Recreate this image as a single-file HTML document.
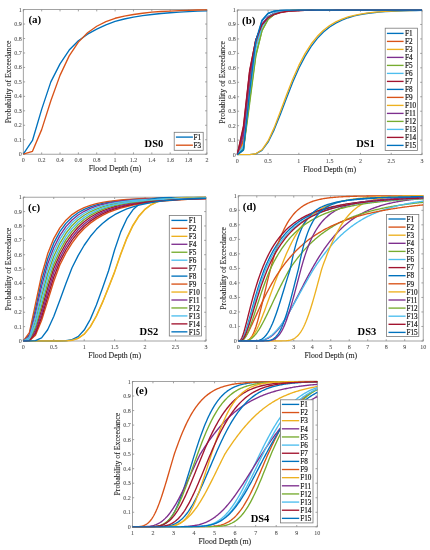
<!DOCTYPE html>
<html><head><meta charset="utf-8"><title>Fragility curves</title>
<style>
html,body{margin:0;padding:0;background:#fff;}
body{width:430px;height:550px;overflow:hidden;}
svg{display:block;filter:blur(0.42px);}
text{font-family:"Liberation Serif","Times New Roman",serif;}
.tk text{font-size:5.5px;fill:#4a4a4a;stroke:#4a4a4a;stroke-width:0.05px;}
.al{font-size:7.85px;fill:#262626;stroke:#262626;stroke-width:0.1px;}
.lg{font-size:7.4px;fill:#1a1a1a;stroke:#1a1a1a;stroke-width:0.2px;}
.pl{font-size:9.8px;font-weight:bold;fill:#000;}
.ds{font-size:10.2px;font-weight:bold;fill:#000;}
</style></head>
<body>
<svg width="430" height="550" viewBox="0 0 430 550">
<rect width="430" height="550" fill="#fff"/>
<rect x="23.3" y="9.6" width="183.6" height="144.6" fill="none" stroke="#8c8c8c" stroke-width="0.8"/>
<path d="M23.3,154.2v-1.8M23.3,9.6v1.8M41.66,154.2v-1.8M41.66,9.6v1.8M60.02,154.2v-1.8M60.02,9.6v1.8M78.38,154.2v-1.8M78.38,9.6v1.8M96.74,154.2v-1.8M96.74,9.6v1.8M115.1,154.2v-1.8M115.1,9.6v1.8M133.46,154.2v-1.8M133.46,9.6v1.8M151.82,154.2v-1.8M151.82,9.6v1.8M170.18,154.2v-1.8M170.18,9.6v1.8M188.54,154.2v-1.8M188.54,9.6v1.8M206.9,154.2v-1.8M206.9,9.6v1.8M23.3,154.2h1.8M206.9,154.2h-1.8M23.3,139.74h1.8M206.9,139.74h-1.8M23.3,125.28h1.8M206.9,125.28h-1.8M23.3,110.82h1.8M206.9,110.82h-1.8M23.3,96.36h1.8M206.9,96.36h-1.8M23.3,81.9h1.8M206.9,81.9h-1.8M23.3,67.44h1.8M206.9,67.44h-1.8M23.3,52.98h1.8M206.9,52.98h-1.8M23.3,38.52h1.8M206.9,38.52h-1.8M23.3,24.06h1.8M206.9,24.06h-1.8M23.3,9.6h1.8M206.9,9.6h-1.8" stroke="#8c8c8c" stroke-width="0.8" fill="none"/>
<clipPath id="clipa"><rect x="22.6" y="8.8" width="185" height="146.2"/></clipPath>
<g clip-path="url(#clipa)" fill="none" stroke-width="1.35" stroke-linejoin="round">
<polyline stroke="#0072BD" points="23.3,154.2 32.48,140.46 41.66,109.37 50.84,81.9 60.02,63.82 69.2,50.09 78.38,40.69 87.56,34.18 96.74,29.12 105.92,24.78 115.1,21.46 124.28,19 133.46,17.12 142.64,15.67 151.82,14.52 161,13.5 170.18,12.78 179.36,12.06 188.54,11.62 197.72,11.19 206.9,10.9"/>
<polyline stroke="#D95319" points="23.3,154.2 32.48,151.31 41.66,129.62 50.84,100.7 60.02,75.39 69.2,55.87 78.38,42.13 87.56,32.74 96.74,26.23 105.92,21.6 115.1,18.28 124.28,16.11 133.46,14.52 142.64,13.22 151.82,12.2 161,11.48 170.18,11.05 179.36,10.61 188.54,10.32 197.72,10.03 206.9,9.89"/>
</g>
<g class="tk"><text transform="translate(23.3,162.3) scale(1.1,1)" text-anchor="middle">0</text><text transform="translate(41.66,162.3) scale(1.1,1)" text-anchor="middle">0.2</text><text transform="translate(60.02,162.3) scale(1.1,1)" text-anchor="middle">0.4</text><text transform="translate(78.38,162.3) scale(1.1,1)" text-anchor="middle">0.6</text><text transform="translate(96.74,162.3) scale(1.1,1)" text-anchor="middle">0.8</text><text transform="translate(115.1,162.3) scale(1.1,1)" text-anchor="middle">1</text><text transform="translate(133.46,162.3) scale(1.1,1)" text-anchor="middle">1.2</text><text transform="translate(151.82,162.3) scale(1.1,1)" text-anchor="middle">1.4</text><text transform="translate(170.18,162.3) scale(1.1,1)" text-anchor="middle">1.6</text><text transform="translate(188.54,162.3) scale(1.1,1)" text-anchor="middle">1.8</text><text transform="translate(206.9,162.3) scale(1.1,1)" text-anchor="middle">2</text><text transform="translate(21.7,156.2) scale(1.1,1)" text-anchor="end">0</text><text transform="translate(21.7,141.74) scale(1.1,1)" text-anchor="end">0.1</text><text transform="translate(21.7,127.28) scale(1.1,1)" text-anchor="end">0.2</text><text transform="translate(21.7,112.82) scale(1.1,1)" text-anchor="end">0.3</text><text transform="translate(21.7,98.36) scale(1.1,1)" text-anchor="end">0.4</text><text transform="translate(21.7,83.9) scale(1.1,1)" text-anchor="end">0.5</text><text transform="translate(21.7,69.44) scale(1.1,1)" text-anchor="end">0.6</text><text transform="translate(21.7,54.98) scale(1.1,1)" text-anchor="end">0.7</text><text transform="translate(21.7,40.52) scale(1.1,1)" text-anchor="end">0.8</text><text transform="translate(21.7,26.06) scale(1.1,1)" text-anchor="end">0.9</text><text transform="translate(21.7,11.6) scale(1.1,1)" text-anchor="end">1</text></g>
<text class="al" x="115.1" y="171.4" text-anchor="middle">Flood Depth (m)</text>
<text class="al" transform="translate(10.6,81.9) rotate(-90)" text-anchor="middle">Probability of Exceedance</text>
<rect x="174.2" y="132.3" width="29" height="18" fill="#fff" stroke="#7a7a7a" stroke-width="0.8"/>
<line x1="175.9" x2="192.9" y1="137.1" y2="137.1" stroke="#0072BD" stroke-width="1.35"/>
<text class="lg" transform="translate(193.6,139.85) scale(0.97,1)">F1</text>
<line x1="175.9" x2="192.9" y1="145.2" y2="145.2" stroke="#D95319" stroke-width="1.35"/>
<text class="lg" transform="translate(193.6,147.95) scale(0.97,1)">F3</text>
<text class="pl" transform="translate(28.4,23.3) scale(1.12,1)">(a)</text>
<text class="ds" transform="translate(144.6,147.2) scale(1.03,1)">DS0</text>
<rect x="237.3" y="10" width="184.7" height="144.6" fill="none" stroke="#8c8c8c" stroke-width="0.8"/>
<path d="M237.3,154.6v-1.8M237.3,10v1.8M268.08,154.6v-1.8M268.08,10v1.8M298.87,154.6v-1.8M298.87,10v1.8M329.65,154.6v-1.8M329.65,10v1.8M360.43,154.6v-1.8M360.43,10v1.8M391.22,154.6v-1.8M391.22,10v1.8M422,154.6v-1.8M422,10v1.8M237.3,154.6h1.8M422,154.6h-1.8M237.3,140.14h1.8M422,140.14h-1.8M237.3,125.68h1.8M422,125.68h-1.8M237.3,111.22h1.8M422,111.22h-1.8M237.3,96.76h1.8M422,96.76h-1.8M237.3,82.3h1.8M422,82.3h-1.8M237.3,67.84h1.8M422,67.84h-1.8M237.3,53.38h1.8M422,53.38h-1.8M237.3,38.92h1.8M422,38.92h-1.8M237.3,24.46h1.8M422,24.46h-1.8M237.3,10h1.8M422,10h-1.8" stroke="#8c8c8c" stroke-width="0.8" fill="none"/>
<clipPath id="clipb"><rect x="236.6" y="9.2" width="186.1" height="146.2"/></clipPath>
<g clip-path="url(#clipb)" fill="none" stroke-width="1.35" stroke-linejoin="round">
<polyline stroke="#0072BD" points="237.3,154.6 243.46,150.23 249.61,95.28 255.77,43.27 261.93,21.18 268.08,13.66 274.24,11.22 280.4,10.42 286.55,10.15 292.71,10.06 298.87,10.02 305.02,10.01 311.18,10 317.34,10 323.49,10 329.65,10 335.81,10 341.96,10 348.12,10 354.28,10 360.43,10 366.59,10 372.75,10 378.9,10 385.06,10 391.22,10 397.37,10 403.53,10 409.69,10 415.84,10 422,10"/>
<polyline stroke="#D95319" points="237.3,154.6 243.46,139.59 249.61,82.3 255.77,43.33 261.93,25.01 268.08,16.92 274.24,13.31 280.4,11.64 286.55,10.85 292.71,10.45 298.87,10.25 305.02,10.14 311.18,10.08 317.34,10.05 323.49,10.03 329.65,10.02 335.81,10.01 341.96,10.01 348.12,10 354.28,10 360.43,10 366.59,10 372.75,10 378.9,10 385.06,10 391.22,10 397.37,10 403.53,10 409.69,10 415.84,10 422,10"/>
<polyline stroke="#EDB120" points="237.3,154.6 243.46,143.49 249.61,87.7 255.77,45.63 261.93,25.57 268.08,16.89 274.24,13.14 280.4,11.49 286.55,10.73 292.71,10.37 298.87,10.19 305.02,10.1 311.18,10.06 317.34,10.03 323.49,10.02 329.65,10.01 335.81,10.01 341.96,10 348.12,10 354.28,10 360.43,10 366.59,10 372.75,10 378.9,10 385.06,10 391.22,10 397.37,10 403.53,10 409.69,10 415.84,10 422,10"/>
<polyline stroke="#7E2F8E" points="237.3,154.6 243.46,132.53 249.61,74.83 255.77,40.4 261.93,24.37 268.08,17.05 274.24,13.61 280.4,11.92 286.55,11.06 292.71,10.61 298.87,10.36 305.02,10.21 311.18,10.13 317.34,10.08 323.49,10.05 329.65,10.04 335.81,10.02 341.96,10.02 348.12,10.01 354.28,10.01 360.43,10.01 366.59,10 372.75,10 378.9,10 385.06,10 391.22,10 397.37,10 403.53,10 409.69,10 415.84,10 422,10"/>
<polyline stroke="#77AC30" points="237.3,154.6 243.46,148.28 249.61,100.59 255.77,55.21 261.93,30.78 268.08,19.47 274.24,14.4 280.4,12.1 286.55,11.03 292.71,10.52 298.87,10.27 305.02,10.15 311.18,10.08 317.34,10.05 323.49,10.03 329.65,10.02 335.81,10.01 341.96,10.01 348.12,10 354.28,10 360.43,10 366.59,10 372.75,10 378.9,10 385.06,10 391.22,10 397.37,10 403.53,10 409.69,10 415.84,10 422,10"/>
<polyline stroke="#4DBEEE" points="237.3,154.6 243.46,145.51 249.61,90.61 255.77,46.53 261.93,25.5 268.08,16.61 274.24,12.9 280.4,11.32 286.55,10.62 292.71,10.3 298.87,10.15 305.02,10.08 311.18,10.04 317.34,10.02 323.49,10.01 329.65,10.01 335.81,10 341.96,10 348.12,10 354.28,10 360.43,10 366.59,10 372.75,10 378.9,10 385.06,10 391.22,10 397.37,10 403.53,10 409.69,10 415.84,10 422,10"/>
<polyline stroke="#A2142F" points="237.3,154.6 243.46,125.93 249.61,70.71 255.77,39.94 261.93,25.21 268.08,18.08 274.24,14.48 280.4,12.58 286.55,11.54 292.71,10.95 298.87,10.6 305.02,10.39 311.18,10.26 317.34,10.17 323.49,10.12 329.65,10.08 335.81,10.06 341.96,10.04 348.12,10.03 354.28,10.02 360.43,10.02 366.59,10.01 372.75,10.01 378.9,10.01 385.06,10.01 391.22,10 397.37,10 403.53,10 409.69,10 415.84,10 422,10"/>
<polyline stroke="#0072BD" points="237.3,154.6 243.46,154.6 249.61,154.57 255.77,153.83 261.93,150.31 268.08,142.19 274.24,129.61 280.4,114.19 286.55,97.91 292.71,82.3 298.87,68.31 305.02,56.32 311.18,46.4 317.34,38.37 323.49,31.99 329.65,26.98 335.81,23.08 341.96,20.06 348.12,17.73 354.28,15.95 360.43,14.58 366.59,13.53 372.75,12.72 378.9,12.1 385.06,11.63 391.22,11.27 397.37,10.98 403.53,10.77 409.69,10.6 415.84,10.47 422,10.37"/>
<polyline stroke="#D95319" points="237.3,154.6 243.46,140.73 249.61,84.89 255.77,45.34 261.93,26.21 268.08,17.59 274.24,13.68 280.4,11.85 286.55,10.96 292.71,10.52 298.87,10.29 305.02,10.16 311.18,10.1 317.34,10.06 323.49,10.03 329.65,10.02 335.81,10.01 341.96,10.01 348.12,10.01 354.28,10 360.43,10 366.59,10 372.75,10 378.9,10 385.06,10 391.22,10 397.37,10 403.53,10 409.69,10 415.84,10 422,10"/>
<polyline stroke="#EDB120" points="237.3,154.6 243.46,154.6 249.61,154.56 255.77,153.71 261.93,149.78 268.08,140.96 274.24,127.62 280.4,111.61 286.55,94.98 292.71,79.29 298.87,65.4 305.02,53.66 311.18,44.03 317.34,36.33 323.49,30.26 329.65,25.54 335.81,21.89 341.96,19.09 348.12,16.95 354.28,15.31 360.43,14.07 366.59,13.12 372.75,12.39 378.9,11.84 385.06,11.42 391.22,11.1 397.37,10.85 403.53,10.66 409.69,10.51 415.84,10.4 422,10.31"/>
<polyline stroke="#7E2F8E" points="237.3,154.6 243.46,135.19 249.61,77.2 255.77,41.16 261.93,24.41 268.08,16.89 274.24,13.43 280.4,11.78 286.55,10.95 292.71,10.53 298.87,10.3 305.02,10.18 311.18,10.11 317.34,10.07 323.49,10.04 329.65,10.03 335.81,10.02 341.96,10.01 348.12,10.01 354.28,10.01 360.43,10 366.59,10 372.75,10 378.9,10 385.06,10 391.22,10 397.37,10 403.53,10 409.69,10 415.84,10 422,10"/>
<polyline stroke="#77AC30" points="237.3,154.6 243.46,149.67 249.61,103.7 255.77,56.42 261.93,30.77 268.08,19.13 274.24,14.07 280.4,11.86 286.55,10.88 292.71,10.43 298.87,10.21 305.02,10.11 311.18,10.06 317.34,10.03 323.49,10.02 329.65,10.01 335.81,10.01 341.96,10 348.12,10 354.28,10 360.43,10 366.59,10 372.75,10 378.9,10 385.06,10 391.22,10 397.37,10 403.53,10 409.69,10 415.84,10 422,10"/>
<polyline stroke="#4DBEEE" points="237.3,154.6 243.46,146.3 249.61,93.23 255.77,48.68 261.93,26.76 268.08,17.27 274.24,13.24 280.4,11.49 286.55,10.71 292.71,10.35 298.87,10.18 305.02,10.09 311.18,10.05 317.34,10.03 323.49,10.02 329.65,10.01 335.81,10.01 341.96,10 348.12,10 354.28,10 360.43,10 366.59,10 372.75,10 378.9,10 385.06,10 391.22,10 397.37,10 403.53,10 409.69,10 415.84,10 422,10"/>
<polyline stroke="#A2142F" points="237.3,154.6 243.46,128.02 249.61,71.85 255.77,39.98 261.93,24.88 268.08,17.71 274.24,14.17 280.4,12.34 286.55,11.36 292.71,10.82 298.87,10.51 305.02,10.32 311.18,10.21 317.34,10.14 323.49,10.09 329.65,10.06 335.81,10.04 341.96,10.03 348.12,10.02 354.28,10.02 360.43,10.01 366.59,10.01 372.75,10.01 378.9,10 385.06,10 391.22,10 397.37,10 403.53,10 409.69,10 415.84,10 422,10"/>
<polyline stroke="#0072BD" points="237.3,154.6 243.46,149.66 249.61,92.18 255.77,40.92 261.93,20.08 268.08,13.22 274.24,11.05 280.4,10.36 286.55,10.13 292.71,10.05 298.87,10.02 305.02,10.01 311.18,10 317.34,10 323.49,10 329.65,10 335.81,10 341.96,10 348.12,10 354.28,10 360.43,10 366.59,10 372.75,10 378.9,10 385.06,10 391.22,10 397.37,10 403.53,10 409.69,10 415.84,10 422,10"/>
</g>
<g class="tk"><text transform="translate(237.3,162.7) scale(1.1,1)" text-anchor="middle">0</text><text transform="translate(268.08,162.7) scale(1.1,1)" text-anchor="middle">0.5</text><text transform="translate(298.87,162.7) scale(1.1,1)" text-anchor="middle">1</text><text transform="translate(329.65,162.7) scale(1.1,1)" text-anchor="middle">1.5</text><text transform="translate(360.43,162.7) scale(1.1,1)" text-anchor="middle">2</text><text transform="translate(391.22,162.7) scale(1.1,1)" text-anchor="middle">2.5</text><text transform="translate(422,162.7) scale(1.1,1)" text-anchor="middle">3</text><text transform="translate(235.7,156.6) scale(1.1,1)" text-anchor="end">0</text><text transform="translate(235.7,142.14) scale(1.1,1)" text-anchor="end">0.1</text><text transform="translate(235.7,127.68) scale(1.1,1)" text-anchor="end">0.2</text><text transform="translate(235.7,113.22) scale(1.1,1)" text-anchor="end">0.3</text><text transform="translate(235.7,98.76) scale(1.1,1)" text-anchor="end">0.4</text><text transform="translate(235.7,84.3) scale(1.1,1)" text-anchor="end">0.5</text><text transform="translate(235.7,69.84) scale(1.1,1)" text-anchor="end">0.6</text><text transform="translate(235.7,55.38) scale(1.1,1)" text-anchor="end">0.7</text><text transform="translate(235.7,40.92) scale(1.1,1)" text-anchor="end">0.8</text><text transform="translate(235.7,26.46) scale(1.1,1)" text-anchor="end">0.9</text><text transform="translate(235.7,12) scale(1.1,1)" text-anchor="end">1</text></g>
<text class="al" x="329.65" y="171.8" text-anchor="middle">Flood Depth (m)</text>
<text class="al" transform="translate(225.4,82.3) rotate(-90)" text-anchor="middle">Probability of Exceedance</text>
<rect x="385.2" y="28.2" width="32.3" height="122.2" fill="#fff" stroke="#7a7a7a" stroke-width="0.8"/>
<line x1="386.9" x2="403.6" y1="33.4" y2="33.4" stroke="#0072BD" stroke-width="1.35"/>
<text class="lg" transform="translate(404.9,36.15) scale(0.97,1)">F1</text>
<line x1="386.9" x2="403.6" y1="41.4" y2="41.4" stroke="#D95319" stroke-width="1.35"/>
<text class="lg" transform="translate(404.9,44.15) scale(0.97,1)">F2</text>
<line x1="386.9" x2="403.6" y1="49.4" y2="49.4" stroke="#EDB120" stroke-width="1.35"/>
<text class="lg" transform="translate(404.9,52.15) scale(0.97,1)">F3</text>
<line x1="386.9" x2="403.6" y1="57.4" y2="57.4" stroke="#7E2F8E" stroke-width="1.35"/>
<text class="lg" transform="translate(404.9,60.15) scale(0.97,1)">F4</text>
<line x1="386.9" x2="403.6" y1="65.4" y2="65.4" stroke="#77AC30" stroke-width="1.35"/>
<text class="lg" transform="translate(404.9,68.15) scale(0.97,1)">F5</text>
<line x1="386.9" x2="403.6" y1="73.4" y2="73.4" stroke="#4DBEEE" stroke-width="1.35"/>
<text class="lg" transform="translate(404.9,76.15) scale(0.97,1)">F6</text>
<line x1="386.9" x2="403.6" y1="81.4" y2="81.4" stroke="#A2142F" stroke-width="1.35"/>
<text class="lg" transform="translate(404.9,84.15) scale(0.97,1)">F7</text>
<line x1="386.9" x2="403.6" y1="89.4" y2="89.4" stroke="#0072BD" stroke-width="1.35"/>
<text class="lg" transform="translate(404.9,92.15) scale(0.97,1)">F8</text>
<line x1="386.9" x2="403.6" y1="97.4" y2="97.4" stroke="#D95319" stroke-width="1.35"/>
<text class="lg" transform="translate(404.9,100.15) scale(0.97,1)">F9</text>
<line x1="386.9" x2="403.6" y1="105.4" y2="105.4" stroke="#EDB120" stroke-width="1.35"/>
<text class="lg" transform="translate(404.9,108.15) scale(0.97,1)">F10</text>
<line x1="386.9" x2="403.6" y1="113.4" y2="113.4" stroke="#7E2F8E" stroke-width="1.35"/>
<text class="lg" transform="translate(404.9,116.15) scale(0.97,1)">F11</text>
<line x1="386.9" x2="403.6" y1="121.4" y2="121.4" stroke="#77AC30" stroke-width="1.35"/>
<text class="lg" transform="translate(404.9,124.15) scale(0.97,1)">F12</text>
<line x1="386.9" x2="403.6" y1="129.4" y2="129.4" stroke="#4DBEEE" stroke-width="1.35"/>
<text class="lg" transform="translate(404.9,132.15) scale(0.97,1)">F13</text>
<line x1="386.9" x2="403.6" y1="137.4" y2="137.4" stroke="#A2142F" stroke-width="1.35"/>
<text class="lg" transform="translate(404.9,140.15) scale(0.97,1)">F14</text>
<line x1="386.9" x2="403.6" y1="145.4" y2="145.4" stroke="#0072BD" stroke-width="1.35"/>
<text class="lg" transform="translate(404.9,148.15) scale(0.97,1)">F15</text>
<text class="pl" transform="translate(242,23.8) scale(1.12,1)">(b)</text>
<text class="ds" transform="translate(356.2,147) scale(1.03,1)">DS1</text>
<rect x="23.3" y="197.2" width="182.7" height="143.8" fill="none" stroke="#8c8c8c" stroke-width="0.8"/>
<path d="M23.3,341v-1.8M23.3,197.2v1.8M53.75,341v-1.8M53.75,197.2v1.8M84.2,341v-1.8M84.2,197.2v1.8M114.65,341v-1.8M114.65,197.2v1.8M145.1,341v-1.8M145.1,197.2v1.8M175.55,341v-1.8M175.55,197.2v1.8M206,341v-1.8M206,197.2v1.8M23.3,341h1.8M206,341h-1.8M23.3,326.62h1.8M206,326.62h-1.8M23.3,312.24h1.8M206,312.24h-1.8M23.3,297.86h1.8M206,297.86h-1.8M23.3,283.48h1.8M206,283.48h-1.8M23.3,269.1h1.8M206,269.1h-1.8M23.3,254.72h1.8M206,254.72h-1.8M23.3,240.34h1.8M206,240.34h-1.8M23.3,225.96h1.8M206,225.96h-1.8M23.3,211.58h1.8M206,211.58h-1.8M23.3,197.2h1.8M206,197.2h-1.8" stroke="#8c8c8c" stroke-width="0.8" fill="none"/>
<clipPath id="clipc"><rect x="22.6" y="196.4" width="184.1" height="145.4"/></clipPath>
<g clip-path="url(#clipc)" fill="none" stroke-width="1.35" stroke-linejoin="round">
<polyline stroke="#0072BD" points="23.3,341 29.39,334.63 35.48,308.82 41.57,280.93 47.66,259.03 53.75,243.19 59.84,231.71 65.93,223.36 72.02,217.26 78.11,212.75 84.2,209.38 90.29,206.83 96.38,204.88 102.47,203.38 108.56,202.21 114.65,201.29 120.74,200.56 126.83,199.98 132.92,199.51 139.01,199.13 145.1,198.82 151.19,198.57 157.28,198.36 163.37,198.19 169.46,198.05 175.55,197.93 181.64,197.83 187.73,197.74 193.82,197.67 199.91,197.61 206,197.56"/>
<polyline stroke="#D95319" points="23.3,341 29.39,332.66 35.48,303.8 41.57,275.21 47.66,253.82 53.75,238.6 59.84,227.82 65.93,220.14 72.02,214.6 78.11,210.57 84.2,207.58 90.29,205.35 96.38,203.66 102.47,202.36 108.56,201.36 114.65,200.58 120.74,199.96 126.83,199.48 132.92,199.08 139.01,198.77 145.1,198.51 151.19,198.31 157.28,198.14 163.37,197.99 169.46,197.88 175.55,197.78 181.64,197.7 187.73,197.63 193.82,197.57 199.91,197.52 206,197.48"/>
<polyline stroke="#EDB120" points="23.3,341 29.39,341 35.48,341 41.57,341 47.66,341 53.75,341 59.84,340.98 65.93,340.86 72.02,340.23 78.11,338.32 84.2,334.06 90.29,326.59 96.38,315.75 102.47,302.15 108.56,286.92 114.65,271.38 120.74,253.63 126.83,237.79 132.92,225.15 139.01,215.72 145.1,209.06 151.19,204.57 157.28,201.67 163.37,199.85 169.46,198.74 175.55,198.08 181.64,197.7 187.73,197.48 193.82,197.35 199.91,197.28 206,197.25"/>
<polyline stroke="#7E2F8E" points="23.3,341 29.39,336.19 35.48,313.34 41.57,286.4 47.66,264.03 53.75,247.7 59.84,235.59 65.93,226.64 72.02,220 78.11,215.02 84.2,211.27 90.29,208.4 96.38,206.19 102.47,204.47 108.56,203.13 114.65,202.06 120.74,201.21 126.83,200.53 132.92,199.98 139.01,199.53 145.1,199.17 151.19,198.87 157.28,198.62 163.37,198.41 169.46,198.24 175.55,198.09 181.64,197.97 187.73,197.87 193.82,197.78 199.91,197.71 206,197.64"/>
<polyline stroke="#77AC30" points="23.3,341 29.39,338.37 35.48,321.04 41.57,296.53 47.66,273.74 53.75,256.41 59.84,243.3 65.93,233.28 72.02,225.64 78.11,219.78 84.2,215.27 90.29,211.76 96.38,209.02 102.47,206.86 108.56,205.15 114.65,203.78 120.74,202.67 126.83,201.78 132.92,201.05 139.01,200.45 145.1,199.96 151.19,199.55 157.28,199.21 163.37,198.92 169.46,198.68 175.55,198.48 181.64,198.31 187.73,198.17 193.82,198.04 199.91,197.94 206,197.85"/>
<polyline stroke="#4DBEEE" points="23.3,341 29.39,337.41 35.48,317.41 41.57,291.59 47.66,268.81 53.75,252.12 59.84,239.46 65.93,229.95 72.02,222.79 78.11,217.37 84.2,213.23 90.29,210.05 96.38,207.57 102.47,205.64 108.56,204.11 114.65,202.89 120.74,201.92 126.83,201.13 132.92,200.49 139.01,199.97 145.1,199.55 151.19,199.19 157.28,198.9 163.37,198.66 169.46,198.45 175.55,198.28 181.64,198.13 187.73,198.01 193.82,197.91 199.91,197.82 206,197.74"/>
<polyline stroke="#A2142F" points="23.3,341 29.39,340.07 35.48,329.59 41.57,309.74 47.66,287.97 53.75,268.55 59.84,254.48 65.93,243.23 72.02,234.32 78.11,227.28 84.2,221.7 90.29,217.27 96.38,213.73 102.47,210.89 108.56,208.59 114.65,206.73 120.74,205.21 126.83,203.96 132.92,202.93 139.01,202.08 145.1,201.37 151.19,200.78 157.28,200.28 163.37,199.86 169.46,199.5 175.55,199.2 181.64,198.95 187.73,198.73 193.82,198.54 199.91,198.37 206,198.23"/>
<polyline stroke="#0072BD" points="23.3,341 29.39,341 35.48,341 41.57,341 47.66,341 53.75,341 59.84,340.97 65.93,340.75 72.02,339.69 78.11,336.59 84.2,330.05 90.29,319.37 96.38,304.93 102.47,288.15 108.56,270.8 114.65,249.76 120.74,231.89 126.83,218.68 132.92,209.77 139.01,204.21 145.1,200.95 151.19,199.13 157.28,198.17 163.37,197.67 169.46,197.42 175.55,197.31 181.64,197.25 187.73,197.22 193.82,197.21 199.91,197.2 206,197.2"/>
<polyline stroke="#D95319" points="23.3,341 29.39,340.73 35.48,335.18 41.57,320.53 47.66,301.1 53.75,281.53 59.84,265.02 65.93,252.95 72.02,243.06 78.11,235.01 84.2,228.47 90.29,223.17 96.38,218.85 102.47,215.33 108.56,212.44 114.65,210.07 120.74,208.11 126.83,206.48 132.92,205.13 139.01,203.99 145.1,203.04 151.19,202.24 157.28,201.56 163.37,200.99 169.46,200.5 175.55,200.08 181.64,199.72 187.73,199.41 193.82,199.15 199.91,198.92 206,198.72"/>
<polyline stroke="#EDB120" points="23.3,341 29.39,341 35.48,341 41.57,341 47.66,341 53.75,341 59.84,340.99 65.93,340.86 72.02,340.26 78.11,338.41 84.2,334.24 90.29,326.92 96.38,316.24 102.47,302.77 108.56,287.64 114.65,272.14 120.74,254.55 126.83,238.6 132.92,225.81 139.01,216.22 145.1,209.42 151.19,204.83 157.28,201.84 163.37,199.96 169.46,198.81 175.55,198.12 181.64,197.72 187.73,197.49 193.82,197.36 199.91,197.29 206,197.25"/>
<polyline stroke="#7E2F8E" points="23.3,341 29.39,340.37 35.48,331.76 41.57,313.61 47.66,292.48 53.75,272.84 59.84,258.07 65.93,246.51 72.02,237.24 78.11,229.84 84.2,223.93 90.29,219.2 96.38,215.4 102.47,212.33 108.56,209.83 114.65,207.8 120.74,206.14 126.83,204.77 132.92,203.63 139.01,202.69 145.1,201.9 151.19,201.24 157.28,200.68 163.37,200.22 169.46,199.82 175.55,199.48 181.64,199.19 187.73,198.94 193.82,198.73 199.91,198.54 206,198.38"/>
<polyline stroke="#77AC30" points="23.3,341 29.39,339.65 35.48,327.1 41.57,305.6 47.66,283.34 53.75,264.64 59.84,250.82 65.93,239.93 72.02,231.41 78.11,224.75 84.2,219.51 90.29,215.38 96.38,212.11 102.47,209.49 108.56,207.39 114.65,205.7 120.74,204.32 126.83,203.19 132.92,202.27 139.01,201.5 145.1,200.87 151.19,200.34 157.28,199.9 163.37,199.53 169.46,199.21 175.55,198.95 181.64,198.72 187.73,198.53 193.82,198.36 199.91,198.22 206,198.1"/>
<polyline stroke="#4DBEEE" points="23.3,341 29.39,339.1 35.48,324.26 41.57,301.2 47.66,278.59 53.75,260.59 59.84,247.09 65.93,236.61 72.02,228.51 78.11,222.24 84.2,217.36 90.29,213.55 96.38,210.54 102.47,208.15 108.56,206.24 114.65,204.71 120.74,203.47 126.83,202.46 132.92,201.64 139.01,200.96 145.1,200.4 151.19,199.93 157.28,199.54 163.37,199.21 169.46,198.94 175.55,198.7 181.64,198.51 187.73,198.34 193.82,198.2 199.91,198.07 206,197.97"/>
<polyline stroke="#A2142F" points="23.3,341 29.39,340.58 35.48,333.61 41.57,317.21 47.66,296.86 53.75,277.2 59.84,261.59 65.93,249.75 72.02,240.15 78.11,232.42 84.2,226.19 90.29,221.17 96.38,217.11 102.47,213.81 108.56,211.12 114.65,208.92 120.74,207.1 126.83,205.61 132.92,204.36 139.01,203.33 145.1,202.46 151.19,201.73 157.28,201.11 163.37,200.59 169.46,200.15 175.55,199.77 181.64,199.45 187.73,199.17 193.82,198.93 199.91,198.72 206,198.55"/>
<polyline stroke="#0072BD" points="23.3,341 29.39,341 35.48,340.7 41.57,337.86 47.66,329.77 53.75,316.51 59.84,300.26 65.93,283.4 72.02,267.79 78.11,255.63 84.2,245.25 90.29,236.55 96.38,229.35 102.47,223.45 108.56,218.64 114.65,214.72 120.74,211.54 126.83,208.96 132.92,206.86 139.01,205.15 145.1,203.76 151.19,202.63 157.28,201.7 163.37,200.94 169.46,200.32 175.55,199.8 181.64,199.38 187.73,199.03 193.82,198.74 199.91,198.5 206,198.3"/>
</g>
<g class="tk"><text transform="translate(23.3,349.1) scale(1.1,1)" text-anchor="middle">0</text><text transform="translate(53.75,349.1) scale(1.1,1)" text-anchor="middle">0.5</text><text transform="translate(84.2,349.1) scale(1.1,1)" text-anchor="middle">1</text><text transform="translate(114.65,349.1) scale(1.1,1)" text-anchor="middle">1.5</text><text transform="translate(145.1,349.1) scale(1.1,1)" text-anchor="middle">2</text><text transform="translate(175.55,349.1) scale(1.1,1)" text-anchor="middle">2.5</text><text transform="translate(206,349.1) scale(1.1,1)" text-anchor="middle">3</text><text transform="translate(21.7,343) scale(1.1,1)" text-anchor="end">0</text><text transform="translate(21.7,328.62) scale(1.1,1)" text-anchor="end">0.1</text><text transform="translate(21.7,314.24) scale(1.1,1)" text-anchor="end">0.2</text><text transform="translate(21.7,299.86) scale(1.1,1)" text-anchor="end">0.3</text><text transform="translate(21.7,285.48) scale(1.1,1)" text-anchor="end">0.4</text><text transform="translate(21.7,271.1) scale(1.1,1)" text-anchor="end">0.5</text><text transform="translate(21.7,256.72) scale(1.1,1)" text-anchor="end">0.6</text><text transform="translate(21.7,242.34) scale(1.1,1)" text-anchor="end">0.7</text><text transform="translate(21.7,227.96) scale(1.1,1)" text-anchor="end">0.8</text><text transform="translate(21.7,213.58) scale(1.1,1)" text-anchor="end">0.9</text><text transform="translate(21.7,199.2) scale(1.1,1)" text-anchor="end">1</text></g>
<text class="al" x="114.65" y="358.2" text-anchor="middle">Flood Depth (m)</text>
<text class="al" transform="translate(10.6,269.1) rotate(-90)" text-anchor="middle">Probability of Exceedance</text>
<rect x="169.3" y="215.5" width="32.1" height="120.5" fill="#fff" stroke="#7a7a7a" stroke-width="0.8"/>
<line x1="171.4" x2="187.4" y1="220.4" y2="220.4" stroke="#0072BD" stroke-width="1.35"/>
<text class="lg" transform="translate(188.8,223.15) scale(0.97,1)">F1</text>
<line x1="171.4" x2="187.4" y1="228.36" y2="228.36" stroke="#D95319" stroke-width="1.35"/>
<text class="lg" transform="translate(188.8,231.11) scale(0.97,1)">F2</text>
<line x1="171.4" x2="187.4" y1="236.32" y2="236.32" stroke="#EDB120" stroke-width="1.35"/>
<text class="lg" transform="translate(188.8,239.07) scale(0.97,1)">F3</text>
<line x1="171.4" x2="187.4" y1="244.28" y2="244.28" stroke="#7E2F8E" stroke-width="1.35"/>
<text class="lg" transform="translate(188.8,247.03) scale(0.97,1)">F4</text>
<line x1="171.4" x2="187.4" y1="252.24" y2="252.24" stroke="#77AC30" stroke-width="1.35"/>
<text class="lg" transform="translate(188.8,254.99) scale(0.97,1)">F5</text>
<line x1="171.4" x2="187.4" y1="260.2" y2="260.2" stroke="#4DBEEE" stroke-width="1.35"/>
<text class="lg" transform="translate(188.8,262.95) scale(0.97,1)">F6</text>
<line x1="171.4" x2="187.4" y1="268.16" y2="268.16" stroke="#A2142F" stroke-width="1.35"/>
<text class="lg" transform="translate(188.8,270.91) scale(0.97,1)">F7</text>
<line x1="171.4" x2="187.4" y1="276.12" y2="276.12" stroke="#0072BD" stroke-width="1.35"/>
<text class="lg" transform="translate(188.8,278.87) scale(0.97,1)">F8</text>
<line x1="171.4" x2="187.4" y1="284.08" y2="284.08" stroke="#D95319" stroke-width="1.35"/>
<text class="lg" transform="translate(188.8,286.83) scale(0.97,1)">F9</text>
<line x1="171.4" x2="187.4" y1="292.04" y2="292.04" stroke="#EDB120" stroke-width="1.35"/>
<text class="lg" transform="translate(188.8,294.79) scale(0.97,1)">F10</text>
<line x1="171.4" x2="187.4" y1="300" y2="300" stroke="#7E2F8E" stroke-width="1.35"/>
<text class="lg" transform="translate(188.8,302.75) scale(0.97,1)">F11</text>
<line x1="171.4" x2="187.4" y1="307.96" y2="307.96" stroke="#77AC30" stroke-width="1.35"/>
<text class="lg" transform="translate(188.8,310.71) scale(0.97,1)">F12</text>
<line x1="171.4" x2="187.4" y1="315.92" y2="315.92" stroke="#4DBEEE" stroke-width="1.35"/>
<text class="lg" transform="translate(188.8,318.67) scale(0.97,1)">F13</text>
<line x1="171.4" x2="187.4" y1="323.88" y2="323.88" stroke="#A2142F" stroke-width="1.35"/>
<text class="lg" transform="translate(188.8,326.63) scale(0.97,1)">F14</text>
<line x1="171.4" x2="187.4" y1="331.84" y2="331.84" stroke="#0072BD" stroke-width="1.35"/>
<text class="lg" transform="translate(188.8,334.59) scale(0.97,1)">F15</text>
<text class="pl" transform="translate(28,210.5) scale(1.12,1)">(c)</text>
<text class="ds" transform="translate(139.6,335) scale(1.03,1)">DS2</text>
<rect x="238.3" y="195.8" width="184.9" height="145.2" fill="none" stroke="#8c8c8c" stroke-width="0.8"/>
<path d="M238.3,341v-1.8M238.3,195.8v1.8M256.79,341v-1.8M256.79,195.8v1.8M275.28,341v-1.8M275.28,195.8v1.8M293.77,341v-1.8M293.77,195.8v1.8M312.26,341v-1.8M312.26,195.8v1.8M330.75,341v-1.8M330.75,195.8v1.8M349.24,341v-1.8M349.24,195.8v1.8M367.73,341v-1.8M367.73,195.8v1.8M386.22,341v-1.8M386.22,195.8v1.8M404.71,341v-1.8M404.71,195.8v1.8M423.2,341v-1.8M423.2,195.8v1.8M238.3,341h1.8M423.2,341h-1.8M238.3,326.48h1.8M423.2,326.48h-1.8M238.3,311.96h1.8M423.2,311.96h-1.8M238.3,297.44h1.8M423.2,297.44h-1.8M238.3,282.92h1.8M423.2,282.92h-1.8M238.3,268.4h1.8M423.2,268.4h-1.8M238.3,253.88h1.8M423.2,253.88h-1.8M238.3,239.36h1.8M423.2,239.36h-1.8M238.3,224.84h1.8M423.2,224.84h-1.8M238.3,210.32h1.8M423.2,210.32h-1.8M238.3,195.8h1.8M423.2,195.8h-1.8" stroke="#8c8c8c" stroke-width="0.8" fill="none"/>
<clipPath id="clipd"><rect x="237.6" y="195" width="186.3" height="146.8"/></clipPath>
<g clip-path="url(#clipd)" fill="none" stroke-width="1.35" stroke-linejoin="round">
<polyline stroke="#0072BD" points="238.3,341 239.22,340.99 240.15,340.87 241.07,340.42 242,339.5 242.92,338.08 243.85,336.2 244.77,333.9 245.7,331.28 246.62,328.38 247.55,325.29 248.47,322.05 249.39,318.72 250.32,315.33 251.24,311.91 252.17,308.5 253.09,305.11 254.02,301.76 254.94,298.46 255.87,295.23 256.79,292.07 257.71,289 258.64,286 259.56,283.09 260.49,280.27 261.41,277.53 262.34,274.88 263.26,272.32 264.19,269.84 265.11,267.51 266.04,265.33 266.96,263.22 267.88,261.19 268.81,259.23 269.73,257.34 270.66,255.51 271.58,253.75 272.51,252.05 273.43,250.41 274.36,248.83 275.28,247.3 276.2,245.82 277.13,244.4 278.05,243.02 278.98,241.7 279.9,240.41 280.83,239.18 281.75,237.98 282.68,236.82 283.6,235.71 284.52,234.63 285.45,233.58 286.37,232.57 287.3,231.6 288.22,230.65 289.15,229.74 290.07,228.85 291,228 291.92,227.17 292.85,226.37 293.77,225.59 294.69,224.84 295.62,224.11 296.54,223.4 297.47,222.72 298.39,222.06 299.32,221.41 300.24,220.79 301.17,220.19 302.09,219.6 303.01,219.03 303.94,218.48 304.86,217.94 305.79,217.42 306.71,216.91 307.64,216.42 308.56,215.95 309.49,215.48 310.41,215.03 311.34,214.6 312.26,214.17 313.18,213.76 314.11,213.36 315.03,212.97 315.96,212.59 316.88,212.22 317.81,211.86 318.73,211.51 319.66,211.17 320.58,210.84 321.5,210.52 322.43,210.21 323.35,209.9 324.28,209.6 325.2,209.31 326.13,209.03 327.05,208.76 327.98,208.49 328.9,208.23 329.83,207.97 330.75,207.73 331.67,207.48 332.6,207.25 333.52,207.02 334.45,206.8 335.37,206.58 336.3,206.36 337.22,206.16 338.15,205.95 339.07,205.75 340,205.56 340.92,205.37 341.84,205.19 342.77,205.01 343.69,204.83 344.62,204.66 345.54,204.49 346.47,204.33 347.39,204.17 348.32,204.02 349.24,203.86 350.16,203.71 351.09,203.57 352.01,203.43 352.94,203.29 353.86,203.15 354.79,203.02 355.71,202.89 356.64,202.76 357.56,202.64 358.49,202.52 359.41,202.4 360.33,202.28 361.26,202.17 362.18,202.05 363.11,201.95 364.03,201.84 364.96,201.73 365.88,201.63 366.81,201.53 367.73,201.43 368.65,201.34 369.58,201.24 370.5,201.15 371.43,201.06 372.35,200.97 373.28,200.89 374.2,200.8 375.13,200.72 376.05,200.64 376.98,200.56 377.9,200.48 378.82,200.41 379.75,200.33 380.67,200.26 381.6,200.19 382.52,200.12 383.45,200.05 384.37,199.98 385.3,199.91 386.22,199.85 387.14,199.78 388.07,199.72 388.99,199.66 389.92,199.6 390.84,199.54 391.77,199.48 392.69,199.42 393.62,199.37 394.54,199.31 395.46,199.26 396.39,199.21 397.31,199.16 398.24,199.1 399.16,199.05 400.09,199.01 401.01,198.96 401.94,198.91 402.86,198.86 403.79,198.82 404.71,198.77 405.63,198.73 406.56,198.69 407.48,198.64 408.41,198.6 409.33,198.56 410.26,198.52 411.18,198.48 412.11,198.44 413.03,198.41 413.95,198.37 414.88,198.33 415.8,198.3 416.73,198.26 417.65,198.23 418.58,198.19 419.5,198.16 420.43,198.12 421.35,198.09 422.28,198.06 423.2,198.03"/>
<polyline stroke="#D95319" points="238.3,341 239.22,341 240.15,341 241.07,341 242,341 242.92,341 243.85,340.99 244.77,340.96 245.7,340.88 246.62,340.72 247.55,340.44 248.47,340 249.39,339.35 250.32,338.45 251.24,337.28 252.17,335.81 253.09,334.04 254.02,331.97 254.94,329.59 255.87,326.94 256.79,324.03 257.71,320.88 258.64,317.54 259.56,314.02 260.49,310.35 261.41,306.58 262.34,302.73 263.26,298.83 264.19,294.9 265.11,290.97 266.04,287.06 266.96,283.19 267.88,279.38 268.81,275.63 269.73,271.97 270.66,268.4 271.58,264.93 272.51,261.57 273.43,258.32 274.36,255.18 275.28,252.16 276.2,249.26 277.13,246.48 278.05,243.82 278.98,241.27 279.9,238.84 280.83,236.52 281.75,234.31 282.68,232.21 283.6,230.22 284.52,228.32 285.45,226.52 286.37,224.81 287.3,223.19 288.22,221.66 289.15,220.21 290.07,218.84 291,217.54 291.92,216.31 292.85,215.15 293.77,214.06 294.69,213.02 295.62,212.05 296.54,211.12 297.47,210.25 298.39,209.43 299.32,208.66 300.24,207.93 301.17,207.24 302.09,206.6 303.01,205.98 303.94,205.41 304.86,204.86 305.79,204.35 306.71,203.87 307.64,203.42 308.56,202.99 309.49,202.58 310.41,202.2 311.34,201.84 312.26,201.51 313.18,201.19 314.11,200.89 315.03,200.6 315.96,200.34 316.88,200.09 317.81,199.85 318.73,199.63 319.66,199.42 320.58,199.22 321.5,199.03 322.43,198.85 323.35,198.69 324.28,198.53 325.2,198.38 326.13,198.24 327.05,198.11 327.98,197.98 328.9,197.87 329.83,197.76 330.75,197.65 331.67,197.55 332.6,197.46 333.52,197.37 334.45,197.29 335.37,197.21 336.3,197.14 337.22,197.07 338.15,197 339.07,196.94 340,196.88 340.92,196.82 341.84,196.77 342.77,196.72 343.69,196.67 344.62,196.63 345.54,196.58 346.47,196.54 347.39,196.51 348.32,196.47 349.24,196.44 350.16,196.4 351.09,196.37 352.01,196.34 352.94,196.32 353.86,196.29 354.79,196.27 355.71,196.24 356.64,196.22 357.56,196.2 358.49,196.18 359.41,196.16 360.33,196.14 361.26,196.13 362.18,196.11 363.11,196.1 364.03,196.08 364.96,196.07 365.88,196.05 366.81,196.04 367.73,196.03 368.65,196.02 369.58,196.01 370.5,196 371.43,195.99 372.35,195.98 373.28,195.97 374.2,195.96 375.13,195.96 376.05,195.95 376.98,195.94 377.9,195.94 378.82,195.93 379.75,195.92 380.67,195.92 381.6,195.91 382.52,195.91 383.45,195.9 384.37,195.9 385.3,195.89 386.22,195.89 387.14,195.88 388.07,195.88 388.99,195.88 389.92,195.87 390.84,195.87 391.77,195.87 392.69,195.86 393.62,195.86 394.54,195.86 395.46,195.86 396.39,195.85 397.31,195.85 398.24,195.85 399.16,195.85 400.09,195.84 401.01,195.84 401.94,195.84 402.86,195.84 403.79,195.84 404.71,195.84 405.63,195.83 406.56,195.83 407.48,195.83 408.41,195.83 409.33,195.83 410.26,195.83 411.18,195.83 412.11,195.83 413.03,195.82 413.95,195.82 414.88,195.82 415.8,195.82 416.73,195.82 417.65,195.82 418.58,195.82 419.5,195.82 420.43,195.82 421.35,195.82 422.28,195.82 423.2,195.82"/>
<polyline stroke="#EDB120" points="238.3,341 239.22,341 240.15,341 241.07,341 242,341 242.92,340.99 243.85,340.96 244.77,340.89 245.7,340.77 246.62,340.58 247.55,340.28 248.47,339.87 249.39,339.32 250.32,338.62 251.24,337.77 252.17,336.75 253.09,335.58 254.02,334.25 254.94,332.76 255.87,331.13 256.79,329.37 257.71,327.48 258.64,325.47 259.56,323.36 260.49,321.15 261.41,318.87 262.34,316.52 263.26,314.11 264.19,311.65 265.11,309.16 266.04,306.64 266.96,304.1 267.88,301.55 268.81,299 269.73,296.45 270.66,293.92 271.58,291.4 272.51,288.9 273.43,286.43 274.36,283.99 275.28,281.58 276.2,279.21 277.13,276.87 278.05,274.58 278.98,272.33 279.9,270.13 280.83,267.9 281.75,265.4 282.68,262.97 283.6,260.6 284.52,258.29 285.45,256.04 286.37,253.85 287.3,251.72 288.22,249.66 289.15,247.66 290.07,245.72 291,243.84 291.92,242.02 292.85,240.27 293.77,238.57 294.69,236.93 295.62,235.35 296.54,233.82 297.47,232.34 298.39,230.92 299.32,229.55 300.24,228.24 301.17,226.96 302.09,225.74 303.01,224.56 303.94,223.43 304.86,222.34 305.79,221.29 306.71,220.29 307.64,219.32 308.56,218.39 309.49,217.49 310.41,216.63 311.34,215.81 312.26,215.01 313.18,214.25 314.11,213.52 315.03,212.82 315.96,212.14 316.88,211.5 317.81,210.87 318.73,210.28 319.66,209.7 320.58,209.15 321.5,208.63 322.43,208.12 323.35,207.63 324.28,207.17 325.2,206.72 326.13,206.29 327.05,205.88 327.98,205.48 328.9,205.1 329.83,204.74 330.75,204.39 331.67,204.06 332.6,203.73 333.52,203.43 334.45,203.13 335.37,202.85 336.3,202.57 337.22,202.31 338.15,202.06 339.07,201.82 340,201.59 340.92,201.36 341.84,201.15 342.77,200.95 343.69,200.75 344.62,200.56 345.54,200.38 346.47,200.21 347.39,200.04 348.32,199.88 349.24,199.72 350.16,199.58 351.09,199.43 352.01,199.3 352.94,199.17 353.86,199.04 354.79,198.92 355.71,198.8 356.64,198.69 357.56,198.58 358.49,198.48 359.41,198.38 360.33,198.29 361.26,198.2 362.18,198.11 363.11,198.02 364.03,197.94 364.96,197.86 365.88,197.79 366.81,197.72 367.73,197.65 368.65,197.58 369.58,197.52 370.5,197.45 371.43,197.39 372.35,197.34 373.28,197.28 374.2,197.23 375.13,197.18 376.05,197.13 376.98,197.08 377.9,197.04 378.82,196.99 379.75,196.95 380.67,196.91 381.6,196.87 382.52,196.83 383.45,196.8 384.37,196.76 385.3,196.73 386.22,196.7 387.14,196.67 388.07,196.64 388.99,196.61 389.92,196.58 390.84,196.55 391.77,196.53 392.69,196.5 393.62,196.48 394.54,196.45 395.46,196.43 396.39,196.41 397.31,196.39 398.24,196.37 399.16,196.35 400.09,196.33 401.01,196.32 401.94,196.3 402.86,196.28 403.79,196.27 404.71,196.25 405.63,196.23 406.56,196.22 407.48,196.21 408.41,196.19 409.33,196.18 410.26,196.17 411.18,196.16 412.11,196.14 413.03,196.13 413.95,196.12 414.88,196.11 415.8,196.1 416.73,196.09 417.65,196.08 418.58,196.07 419.5,196.06 420.43,196.06 421.35,196.05 422.28,196.04 423.2,196.03"/>
<polyline stroke="#7E2F8E" points="238.3,341 239.22,341 240.15,341 241.07,341 242,341 242.92,341 243.85,341 244.77,341 245.7,341 246.62,341 247.55,341 248.47,341 249.39,341 250.32,341 251.24,340.99 252.17,340.99 253.09,340.98 254.02,340.97 254.94,340.95 255.87,340.92 256.79,340.88 257.71,340.83 258.64,340.76 259.56,340.67 260.49,340.55 261.41,340.4 262.34,340.23 263.26,340.02 264.19,339.76 265.11,339.47 266.04,339.13 266.96,338.74 267.88,338.29 268.81,337.79 269.73,337.24 270.66,336.62 271.58,335.95 272.51,335.21 273.43,334.42 274.36,333.56 275.28,332.64 276.2,331.66 277.13,330.61 278.05,329.51 278.98,328.35 279.9,327.13 280.83,325.86 281.75,324.54 282.68,323.17 283.6,321.74 284.52,320.28 285.45,318.77 286.37,317.22 287.3,315.63 288.22,314.01 289.15,312.36 290.07,310.68 291,308.98 291.92,307.25 292.85,305.5 293.77,303.74 294.69,301.96 295.62,300.17 296.54,298.37 297.47,296.56 298.39,294.75 299.32,292.94 300.24,291.13 301.17,289.32 302.09,287.51 303.01,285.71 303.94,283.92 304.86,282.14 305.79,280.37 306.71,278.61 307.64,276.87 308.56,275.14 309.49,273.43 310.41,271.73 311.34,270.06 312.26,268.4 313.18,266.76 314.11,265.15 315.03,263.56 315.96,261.99 316.88,260.44 317.81,258.92 318.73,257.42 319.66,255.95 320.58,254.5 321.5,253.08 322.43,251.68 323.35,250.3 324.28,248.96 325.2,247.63 326.13,246.34 327.05,245.07 327.98,243.82 328.9,242.6 329.83,241.41 330.75,240.24 331.67,239.09 332.6,237.97 333.52,236.87 334.45,235.8 335.37,234.75 336.3,233.73 337.22,232.73 338.15,231.75 339.07,230.8 340,229.86 340.92,228.95 341.84,228.07 342.77,227.2 343.69,226.35 344.62,225.53 345.54,224.72 346.47,223.94 347.39,223.18 348.32,222.43 349.24,221.7 350.16,220.99 351.09,220.3 352.01,219.63 352.94,218.98 353.86,218.34 354.79,217.72 355.71,217.11 356.64,216.52 357.56,215.95 358.49,215.39 359.41,214.85 360.33,214.32 361.26,213.8 362.18,213.3 363.11,212.81 364.03,212.34 364.96,211.88 365.88,211.43 366.81,210.99 367.73,210.57 368.65,210.16 369.58,209.75 370.5,209.36 371.43,208.98 372.35,208.61 373.28,208.25 374.2,207.91 375.13,207.57 376.05,207.24 376.98,206.92 377.9,206.6 378.82,206.3 379.75,206.01 380.67,205.72 381.6,205.44 382.52,205.17 383.45,204.91 384.37,204.65 385.3,204.4 386.22,204.16 387.14,203.93 388.07,203.7 388.99,203.48 389.92,203.26 390.84,203.05 391.77,202.85 392.69,202.65 393.62,202.46 394.54,202.27 395.46,202.09 396.39,201.92 397.31,201.75 398.24,201.58 399.16,201.42 400.09,201.26 401.01,201.11 401.94,200.96 402.86,200.82 403.79,200.68 404.71,200.54 405.63,200.41 406.56,200.28 407.48,200.16 408.41,200.04 409.33,199.92 410.26,199.81 411.18,199.69 412.11,199.59 413.03,199.48 413.95,199.38 414.88,199.28 415.8,199.18 416.73,199.09 417.65,199 418.58,198.91 419.5,198.83 420.43,198.74 421.35,198.66 422.28,198.58 423.2,198.51"/>
<polyline stroke="#77AC30" points="238.3,341 239.22,341 240.15,341 241.07,341 242,341 242.92,340.99 243.85,340.96 244.77,340.9 245.7,340.8 246.62,340.64 247.55,340.42 248.47,340.11 249.39,339.71 250.32,339.21 251.24,338.61 252.17,337.9 253.09,337.08 254.02,336.16 254.94,335.13 255.87,334.01 256.79,332.78 257.71,331.47 258.64,330.07 259.56,328.59 260.49,327.03 261.41,325.41 262.34,323.73 263.26,322 264.19,320.22 265.11,318.4 266.04,316.54 266.96,314.65 267.88,312.74 268.81,310.81 269.73,308.86 270.66,306.9 271.58,304.94 272.51,302.98 273.43,301.01 274.36,299.05 275.28,297.1 276.2,295.16 277.13,293.22 278.05,291.31 278.98,289.41 279.9,287.53 280.83,285.67 281.75,283.83 282.68,282.01 283.6,280.22 284.52,278.45 285.45,276.71 286.37,274.99 287.3,273.3 288.22,271.64 289.15,270.01 290.07,268.4 291,267.03 291.92,265.69 292.85,264.37 293.77,263.08 294.69,261.81 295.62,260.56 296.54,259.34 297.47,258.14 298.39,256.96 299.32,255.81 300.24,254.68 301.17,253.57 302.09,252.48 303.01,251.42 303.94,250.37 304.86,249.35 305.79,248.34 306.71,247.36 307.64,246.39 308.56,245.45 309.49,244.52 310.41,243.62 311.34,242.73 312.26,241.86 313.18,241 314.11,240.17 315.03,239.35 315.96,238.54 316.88,237.76 317.81,236.99 318.73,236.23 319.66,235.49 320.58,234.77 321.5,234.06 322.43,233.36 323.35,232.68 324.28,232.02 325.2,231.36 326.13,230.72 327.05,230.09 327.98,229.48 328.9,228.87 329.83,228.28 330.75,227.71 331.67,227.14 332.6,226.58 333.52,226.04 334.45,225.5 335.37,224.98 336.3,224.47 337.22,223.97 338.15,223.47 339.07,222.99 340,222.52 340.92,222.06 341.84,221.6 342.77,221.16 343.69,220.72 344.62,220.29 345.54,219.87 346.47,219.46 347.39,219.06 348.32,218.66 349.24,218.27 350.16,217.89 351.09,217.52 352.01,217.15 352.94,216.79 353.86,216.44 354.79,216.1 355.71,215.76 356.64,215.43 357.56,215.1 358.49,214.78 359.41,214.47 360.33,214.16 361.26,213.86 362.18,213.57 363.11,213.28 364.03,212.99 364.96,212.71 365.88,212.44 366.81,212.17 367.73,211.9 368.65,211.64 369.58,211.39 370.5,211.14 371.43,210.9 372.35,210.66 373.28,210.42 374.2,210.19 375.13,209.96 376.05,209.74 376.98,209.52 377.9,209.3 378.82,209.09 379.75,208.88 380.67,208.68 381.6,208.48 382.52,208.28 383.45,208.09 384.37,207.9 385.3,207.71 386.22,207.53 387.14,207.35 388.07,207.17 388.99,207 389.92,206.83 390.84,206.66 391.77,206.5 392.69,206.34 393.62,206.18 394.54,206.02 395.46,205.87 396.39,205.72 397.31,205.57 398.24,205.43 399.16,205.28 400.09,205.14 401.01,205.01 401.94,204.87 402.86,204.74 403.79,204.61 404.71,204.48 405.63,204.35 406.56,204.23 407.48,204.1 408.41,203.98 409.33,203.86 410.26,203.75 411.18,203.63 412.11,203.52 413.03,203.41 413.95,203.3 414.88,203.2 415.8,203.09 416.73,202.99 417.65,202.88 418.58,202.78 419.5,202.69 420.43,202.59 421.35,202.49 422.28,202.4 423.2,202.31"/>
<polyline stroke="#4DBEEE" points="238.3,341 239.22,341 240.15,341 241.07,341 242,341 242.92,341 243.85,341 244.77,341 245.7,341 246.62,341 247.55,341 248.47,341 249.39,341 250.32,340.99 251.24,340.99 252.17,340.98 253.09,340.96 254.02,340.94 254.94,340.91 255.87,340.86 256.79,340.81 257.71,340.73 258.64,340.63 259.56,340.5 260.49,340.35 261.41,340.17 262.34,339.95 263.26,339.69 264.19,339.39 265.11,339.04 266.04,338.65 266.96,338.21 267.88,337.71 268.81,337.17 269.73,336.57 270.66,335.91 271.58,335.2 272.51,334.44 273.43,333.61 274.36,332.74 275.28,331.8 276.2,330.82 277.13,329.78 278.05,328.69 278.98,327.55 279.9,326.36 280.83,325.12 281.75,323.84 282.68,322.52 283.6,321.16 284.52,319.76 285.45,318.33 286.37,316.86 287.3,315.36 288.22,313.84 289.15,312.29 290.07,310.72 291,309.12 291.92,307.51 292.85,305.88 293.77,304.24 294.69,302.59 295.62,300.93 296.54,299.26 297.47,297.59 298.39,295.91 299.32,294.23 300.24,292.55 301.17,290.88 302.09,289.21 303.01,287.54 303.94,285.88 304.86,284.23 305.79,282.58 306.71,280.95 307.64,279.33 308.56,277.72 309.49,276.13 310.41,274.55 311.34,272.99 312.26,271.44 313.18,269.91 314.11,268.4 315.03,267 315.96,265.61 316.88,264.24 317.81,262.89 318.73,261.56 319.66,260.25 320.58,258.95 321.5,257.68 322.43,256.42 323.35,255.19 324.28,253.97 325.2,252.77 326.13,251.59 327.05,250.44 327.98,249.3 328.9,248.18 329.83,247.08 330.75,246 331.67,244.94 332.6,243.9 333.52,242.87 334.45,241.87 335.37,240.88 336.3,239.91 337.22,238.97 338.15,238.04 339.07,237.12 340,236.23 340.92,235.35 341.84,234.49 342.77,233.65 343.69,232.82 344.62,232.01 345.54,231.22 346.47,230.44 347.39,229.68 348.32,228.93 349.24,228.2 350.16,227.49 351.09,226.79 352.01,226.1 352.94,225.43 353.86,224.78 354.79,224.13 355.71,223.5 356.64,222.89 357.56,222.29 358.49,221.7 359.41,221.12 360.33,220.56 361.26,220.01 362.18,219.47 363.11,218.94 364.03,218.42 364.96,217.92 365.88,217.42 366.81,216.94 367.73,216.47 368.65,216.01 369.58,215.56 370.5,215.11 371.43,214.68 372.35,214.26 373.28,213.85 374.2,213.44 375.13,213.05 376.05,212.67 376.98,212.29 377.9,211.92 378.82,211.56 379.75,211.21 380.67,210.86 381.6,210.53 382.52,210.2 383.45,209.88 384.37,209.57 385.3,209.26 386.22,208.96 387.14,208.67 388.07,208.38 388.99,208.1 389.92,207.83 390.84,207.56 391.77,207.3 392.69,207.04 393.62,206.79 394.54,206.55 395.46,206.31 396.39,206.08 397.31,205.85 398.24,205.63 399.16,205.41 400.09,205.2 401.01,204.99 401.94,204.79 402.86,204.59 403.79,204.4 404.71,204.21 405.63,204.03 406.56,203.84 407.48,203.67 408.41,203.5 409.33,203.33 410.26,203.16 411.18,203 412.11,202.84 413.03,202.69 413.95,202.54 414.88,202.39 415.8,202.25 416.73,202.11 417.65,201.97 418.58,201.84 419.5,201.71 420.43,201.58 421.35,201.45 422.28,201.33 423.2,201.21"/>
<polyline stroke="#A2142F" points="238.3,341 239.22,340.96 240.15,340.5 241.07,339.33 242,337.46 242.92,335 243.85,332.09 244.77,328.86 245.7,325.41 246.62,321.82 247.55,318.17 248.47,314.49 249.39,310.82 250.32,307.2 251.24,303.64 252.17,300.16 253.09,296.76 254.02,293.47 254.94,290.27 255.87,287.18 256.79,284.2 257.71,281.31 258.64,278.53 259.56,275.85 260.49,273.27 261.41,270.79 262.34,268.4 263.26,266.1 264.19,263.89 265.11,261.76 266.04,259.71 266.96,257.74 267.88,255.84 268.81,254.01 269.73,252.26 270.66,250.57 271.58,248.94 272.51,247.37 273.43,245.86 274.36,244.41 275.28,243.01 276.2,241.66 277.13,240.35 278.05,239.1 278.98,237.89 279.9,236.72 280.83,235.59 281.75,234.51 282.68,233.46 283.6,232.44 284.52,231.46 285.45,230.52 286.37,229.6 287.3,228.72 288.22,227.87 289.15,227.04 290.07,226.24 291,225.47 291.92,224.72 292.85,224 293.77,223.29 294.69,222.62 295.62,221.96 296.54,221.32 297.47,220.7 298.39,220.11 299.32,219.53 300.24,218.96 301.17,218.42 302.09,217.89 303.01,217.37 303.94,216.88 304.86,216.39 305.79,215.92 306.71,215.47 307.64,215.02 308.56,214.59 309.49,214.18 310.41,213.77 311.34,213.37 312.26,212.99 313.18,212.62 314.11,212.25 315.03,211.9 315.96,211.56 316.88,211.22 317.81,210.9 318.73,210.58 319.66,210.27 320.58,209.97 321.5,209.68 322.43,209.4 323.35,209.12 324.28,208.85 325.2,208.59 326.13,208.33 327.05,208.08 327.98,207.84 328.9,207.6 329.83,207.37 330.75,207.14 331.67,206.92 332.6,206.7 333.52,206.49 334.45,206.29 335.37,206.09 336.3,205.9 337.22,205.71 338.15,205.52 339.07,205.34 340,205.16 340.92,204.99 341.84,204.82 342.77,204.65 343.69,204.49 344.62,204.33 345.54,204.18 346.47,204.03 347.39,203.88 348.32,203.74 349.24,203.6 350.16,203.46 351.09,203.33 352.01,203.2 352.94,203.07 353.86,202.94 354.79,202.82 355.71,202.7 356.64,202.58 357.56,202.46 358.49,202.35 359.41,202.24 360.33,202.13 361.26,202.03 362.18,201.92 363.11,201.82 364.03,201.72 364.96,201.62 365.88,201.53 366.81,201.44 367.73,201.34 368.65,201.25 369.58,201.17 370.5,201.08 371.43,201 372.35,200.91 373.28,200.83 374.2,200.75 375.13,200.68 376.05,200.6 376.98,200.52 377.9,200.45 378.82,200.38 379.75,200.31 380.67,200.24 381.6,200.17 382.52,200.1 383.45,200.04 384.37,199.97 385.3,199.91 386.22,199.85 387.14,199.79 388.07,199.73 388.99,199.67 389.92,199.61 390.84,199.56 391.77,199.5 392.69,199.45 393.62,199.4 394.54,199.34 395.46,199.29 396.39,199.24 397.31,199.19 398.24,199.14 399.16,199.1 400.09,199.05 401.01,199 401.94,198.96 402.86,198.91 403.79,198.87 404.71,198.83 405.63,198.78 406.56,198.74 407.48,198.7 408.41,198.66 409.33,198.62 410.26,198.58 411.18,198.55 412.11,198.51 413.03,198.47 413.95,198.44 414.88,198.4 415.8,198.36 416.73,198.33 417.65,198.3 418.58,198.26 419.5,198.23 420.43,198.2 421.35,198.17 422.28,198.14 423.2,198.1"/>
<polyline stroke="#0072BD" points="238.3,341 239.22,341 240.15,341 241.07,341 242,341 242.92,341 243.85,341 244.77,341 245.7,341 246.62,341 247.55,341 248.47,341 249.39,341 250.32,341 251.24,340.99 252.17,340.98 253.09,340.97 254.02,340.94 254.94,340.89 255.87,340.82 256.79,340.71 257.71,340.56 258.64,340.35 259.56,340.08 260.49,339.72 261.41,339.27 262.34,338.72 263.26,338.04 264.19,337.24 265.11,336.31 266.04,335.23 266.96,334 267.88,332.62 268.81,331.09 269.73,329.4 270.66,327.56 271.58,325.58 272.51,323.46 273.43,321.2 274.36,318.82 275.28,316.33 276.2,313.72 277.13,311.03 278.05,308.25 278.98,305.4 279.9,302.49 280.83,299.53 281.75,296.53 282.68,293.51 283.6,290.47 284.52,287.43 285.45,284.39 286.37,281.36 287.3,278.36 288.22,275.38 289.15,272.44 290.07,269.55 291,265.48 291.92,260.86 292.85,256.54 293.77,252.53 294.69,248.81 295.62,245.36 296.54,242.16 297.47,239.21 298.39,236.48 299.32,233.96 300.24,231.63 301.17,229.48 302.09,227.49 303.01,225.66 303.94,223.95 304.86,222.38 305.79,220.92 306.71,219.56 307.64,218.31 308.56,217.14 309.49,216.05 310.41,215.04 311.34,214.1 312.26,213.22 313.18,212.4 314.11,211.63 315.03,210.91 315.96,210.24 316.88,209.61 317.81,209.02 318.73,208.46 319.66,207.94 320.58,207.45 321.5,206.99 322.43,206.55 323.35,206.14 324.28,205.75 325.2,205.39 326.13,205.04 327.05,204.71 327.98,204.4 328.9,204.1 329.83,203.82 330.75,203.56 331.67,203.31 332.6,203.07 333.52,202.84 334.45,202.62 335.37,202.41 336.3,202.21 337.22,202.03 338.15,201.85 339.07,201.67 340,201.51 340.92,201.35 341.84,201.2 342.77,201.06 343.69,200.92 344.62,200.79 345.54,200.66 346.47,200.54 347.39,200.42 348.32,200.31 349.24,200.2 350.16,200.09 351.09,199.99 352.01,199.9 352.94,199.81 353.86,199.72 354.79,199.63 355.71,199.55 356.64,199.47 357.56,199.39 358.49,199.31 359.41,199.24 360.33,199.17 361.26,199.1 362.18,199.04 363.11,198.98 364.03,198.92 364.96,198.86 365.88,198.8 366.81,198.74 367.73,198.69 368.65,198.64 369.58,198.59 370.5,198.54 371.43,198.49 372.35,198.44 373.28,198.4 374.2,198.36 375.13,198.31 376.05,198.27 376.98,198.23 377.9,198.19 378.82,198.16 379.75,198.12 380.67,198.08 381.6,198.05 382.52,198.01 383.45,197.98 384.37,197.95 385.3,197.92 386.22,197.89 387.14,197.86 388.07,197.83 388.99,197.8 389.92,197.77 390.84,197.75 391.77,197.72 392.69,197.69 393.62,197.67 394.54,197.64 395.46,197.62 396.39,197.6 397.31,197.57 398.24,197.55 399.16,197.53 400.09,197.51 401.01,197.49 401.94,197.47 402.86,197.45 403.79,197.43 404.71,197.41 405.63,197.39 406.56,197.37 407.48,197.35 408.41,197.34 409.33,197.32 410.26,197.3 411.18,197.29 412.11,197.27 413.03,197.25 413.95,197.24 414.88,197.22 415.8,197.21 416.73,197.19 417.65,197.18 418.58,197.16 419.5,197.15 420.43,197.14 421.35,197.12 422.28,197.11 423.2,197.1"/>
<polyline stroke="#D95319" points="238.3,341 239.22,341 240.15,340.93 241.07,340.72 242,340.29 242.92,339.64 243.85,338.75 244.77,337.66 245.7,336.38 246.62,334.94 247.55,333.36 248.47,331.66 249.39,329.87 250.32,328 251.24,326.08 252.17,324.1 253.09,322.09 254.02,320.06 254.94,318.01 255.87,315.95 256.79,313.9 257.71,311.85 258.64,309.82 259.56,307.8 260.49,305.8 261.41,303.82 262.34,301.86 263.26,299.93 264.19,298.03 265.11,296.16 266.04,294.32 266.96,292.51 267.88,290.73 268.81,288.99 269.73,287.27 270.66,285.59 271.58,283.95 272.51,282.33 273.43,280.74 274.36,279.19 275.28,277.67 276.2,276.18 277.13,274.72 278.05,273.3 278.98,271.9 279.9,270.53 280.83,269.19 281.75,267.88 282.68,266.6 283.6,265.34 284.52,264.11 285.45,262.91 286.37,261.73 287.3,260.58 288.22,259.45 289.15,258.35 290.07,257.27 291,256.21 291.92,255.17 292.85,254.16 293.77,253.17 294.69,252.2 295.62,251.25 296.54,250.32 297.47,249.41 298.39,248.52 299.32,247.64 300.24,246.79 301.17,245.95 302.09,245.13 303.01,244.33 303.94,243.54 304.86,242.77 305.79,242.02 306.71,241.28 307.64,240.55 308.56,239.84 309.49,239.15 310.41,238.46 311.34,237.8 312.26,237.14 313.18,236.5 314.11,235.87 315.03,235.25 315.96,234.65 316.88,234.06 317.81,233.47 318.73,232.9 319.66,232.34 320.58,231.8 321.5,231.26 322.43,230.73 323.35,230.21 324.28,229.7 325.2,229.21 326.13,228.72 327.05,228.24 327.98,227.77 328.9,227.3 329.83,226.85 330.75,226.4 331.67,225.97 332.6,225.54 333.52,225.12 334.45,224.7 335.37,224.29 336.3,223.9 337.22,223.5 338.15,223.12 339.07,222.74 340,222.37 340.92,222 341.84,221.64 342.77,221.29 343.69,220.95 344.62,220.61 345.54,220.27 346.47,219.94 347.39,219.62 348.32,219.3 349.24,218.99 350.16,218.68 351.09,218.38 352.01,218.08 352.94,217.79 353.86,217.51 354.79,217.22 355.71,216.95 356.64,216.67 357.56,216.4 358.49,216.14 359.41,215.88 360.33,215.63 361.26,215.37 362.18,215.13 363.11,214.88 364.03,214.64 364.96,214.41 365.88,214.18 366.81,213.95 367.73,213.72 368.65,213.5 369.58,213.29 370.5,213.07 371.43,212.86 372.35,212.65 373.28,212.45 374.2,212.25 375.13,212.05 376.05,211.85 376.98,211.66 377.9,211.47 378.82,211.29 379.75,211.1 380.67,210.92 381.6,210.74 382.52,210.57 383.45,210.4 384.37,210.23 385.3,210.06 386.22,209.89 387.14,209.73 388.07,209.57 388.99,209.41 389.92,209.26 390.84,209.1 391.77,208.95 392.69,208.8 393.62,208.65 394.54,208.51 395.46,208.37 396.39,208.23 397.31,208.09 398.24,207.95 399.16,207.82 400.09,207.68 401.01,207.55 401.94,207.42 402.86,207.29 403.79,207.17 404.71,207.04 405.63,206.92 406.56,206.8 407.48,206.68 408.41,206.57 409.33,206.45 410.26,206.34 411.18,206.22 412.11,206.11 413.03,206 413.95,205.89 414.88,205.79 415.8,205.68 416.73,205.58 417.65,205.48 418.58,205.37 419.5,205.27 420.43,205.18 421.35,205.08 422.28,204.98 423.2,204.89"/>
<polyline stroke="#EDB120" points="238.3,341 239.22,341 240.15,341 241.07,341 242,341 242.92,341 243.85,341 244.77,341 245.7,341 246.62,341 247.55,341 248.47,341 249.39,341 250.32,341 251.24,341 252.17,341 253.09,341 254.02,341 254.94,341 255.87,341 256.79,341 257.71,341 258.64,341 259.56,341 260.49,341 261.41,341 262.34,341 263.26,341 264.19,341 265.11,341 266.04,341 266.96,341 267.88,341 268.81,341 269.73,341 270.66,341 271.58,341 272.51,341 273.43,341 274.36,341 275.28,341 276.2,341 277.13,341 278.05,340.99 278.98,340.99 279.9,340.98 280.83,340.97 281.75,340.96 282.68,340.94 283.6,340.91 284.52,340.87 285.45,340.81 286.37,340.74 287.3,340.64 288.22,340.51 289.15,340.35 290.07,340.15 291,339.9 291.92,339.58 292.85,339.21 293.77,338.75 294.69,338.21 295.62,337.58 296.54,336.84 297.47,335.98 298.39,335.01 299.32,333.9 300.24,332.66 301.17,331.27 302.09,329.74 303.01,328.06 303.94,326.22 304.86,324.23 305.79,322.09 306.71,319.8 307.64,317.36 308.56,314.78 309.49,312.07 310.41,309.24 311.34,306.29 312.26,303.24 313.18,300.1 314.11,296.88 315.03,293.59 315.96,290.24 316.88,286.85 317.81,283.44 318.73,280.01 319.66,276.58 320.58,273.15 321.5,269.75 322.43,266.87 323.35,264.34 324.28,261.84 325.2,259.39 326.13,256.97 327.05,254.61 327.98,252.29 328.9,250.02 329.83,247.8 330.75,245.63 331.67,243.53 332.6,241.48 333.52,239.48 334.45,237.55 335.37,235.68 336.3,233.86 337.22,232.11 338.15,230.41 339.07,228.78 340,227.2 340.92,225.68 341.84,224.22 342.77,222.81 343.69,221.46 344.62,220.17 345.54,218.93 346.47,217.74 347.39,216.6 348.32,215.51 349.24,214.47 350.16,213.48 351.09,212.53 352.01,211.63 352.94,210.77 353.86,209.95 354.79,209.17 355.71,208.43 356.64,207.72 357.56,207.05 358.49,206.41 359.41,205.81 360.33,205.24 361.26,204.69 362.18,204.18 363.11,203.69 364.03,203.23 364.96,202.79 365.88,202.38 366.81,201.99 367.73,201.62 368.65,201.27 369.58,200.94 370.5,200.63 371.43,200.34 372.35,200.07 373.28,199.81 374.2,199.56 375.13,199.33 376.05,199.11 376.98,198.91 377.9,198.72 378.82,198.53 379.75,198.36 380.67,198.2 381.6,198.05 382.52,197.91 383.45,197.78 384.37,197.65 385.3,197.54 386.22,197.43 387.14,197.32 388.07,197.22 388.99,197.13 389.92,197.05 390.84,196.97 391.77,196.89 392.69,196.82 393.62,196.76 394.54,196.7 395.46,196.64 396.39,196.58 397.31,196.53 398.24,196.48 399.16,196.44 400.09,196.4 401.01,196.36 401.94,196.32 402.86,196.29 403.79,196.26 404.71,196.23 405.63,196.2 406.56,196.17 407.48,196.15 408.41,196.12 409.33,196.1 410.26,196.08 411.18,196.06 412.11,196.05 413.03,196.03 413.95,196.02 414.88,196 415.8,195.99 416.73,195.98 417.65,195.96 418.58,195.95 419.5,195.94 420.43,195.93 421.35,195.92 422.28,195.92 423.2,195.91"/>
<polyline stroke="#7E2F8E" points="238.3,341 239.22,341 240.15,341 241.07,341 242,341 242.92,341 243.85,341 244.77,341 245.7,341 246.62,341 247.55,341 248.47,341 249.39,341 250.32,341 251.24,341 252.17,341 253.09,341 254.02,341 254.94,341 255.87,341 256.79,341 257.71,341 258.64,341 259.56,341 260.49,341 261.41,341 262.34,340.99 263.26,340.98 264.19,340.97 265.11,340.95 266.04,340.92 266.96,340.88 267.88,340.81 268.81,340.72 269.73,340.6 270.66,340.43 271.58,340.2 272.51,339.92 273.43,339.55 274.36,339.1 275.28,338.55 276.2,337.88 277.13,337.08 278.05,336.15 278.98,335.07 279.9,333.84 280.83,332.44 281.75,330.87 282.68,329.13 283.6,327.21 284.52,325.12 285.45,322.86 286.37,320.44 287.3,317.85 288.22,315.12 289.15,312.25 290.07,309.25 291,306.13 291.92,302.91 292.85,299.61 293.77,296.23 294.69,292.8 295.62,289.33 296.54,285.82 297.47,282.31 298.39,278.8 299.32,275.3 300.24,271.83 301.17,268.4 302.09,265.06 303.01,261.86 303.94,258.8 304.86,255.88 305.79,253.09 306.71,250.43 307.64,247.91 308.56,245.51 309.49,243.23 310.41,241.07 311.34,239.01 312.26,237.07 313.18,235.22 314.11,233.47 315.03,231.82 315.96,230.25 316.88,228.76 317.81,227.34 318.73,226.01 319.66,224.74 320.58,223.53 321.5,222.39 322.43,221.31 323.35,220.28 324.28,219.31 325.2,218.38 326.13,217.5 327.05,216.66 327.98,215.87 328.9,215.11 329.83,214.39 330.75,213.71 331.67,213.06 332.6,212.44 333.52,211.85 334.45,211.28 335.37,210.74 336.3,210.23 337.22,209.74 338.15,209.27 339.07,208.83 340,208.4 340.92,207.99 341.84,207.6 342.77,207.23 343.69,206.87 344.62,206.53 345.54,206.2 346.47,205.88 347.39,205.58 348.32,205.29 349.24,205.01 350.16,204.75 351.09,204.49 352.01,204.25 352.94,204.01 353.86,203.78 354.79,203.56 355.71,203.35 356.64,203.15 357.56,202.96 358.49,202.77 359.41,202.59 360.33,202.42 361.26,202.25 362.18,202.09 363.11,201.93 364.03,201.78 364.96,201.63 365.88,201.49 366.81,201.36 367.73,201.23 368.65,201.1 369.58,200.98 370.5,200.86 371.43,200.75 372.35,200.64 373.28,200.53 374.2,200.42 375.13,200.32 376.05,200.23 376.98,200.13 377.9,200.04 378.82,199.95 379.75,199.87 380.67,199.78 381.6,199.7 382.52,199.62 383.45,199.55 384.37,199.47 385.3,199.4 386.22,199.33 387.14,199.26 388.07,199.2 388.99,199.13 389.92,199.07 390.84,199.01 391.77,198.95 392.69,198.89 393.62,198.84 394.54,198.78 395.46,198.73 396.39,198.68 397.31,198.63 398.24,198.58 399.16,198.53 400.09,198.49 401.01,198.44 401.94,198.4 402.86,198.35 403.79,198.31 404.71,198.27 405.63,198.23 406.56,198.19 407.48,198.16 408.41,198.12 409.33,198.08 410.26,198.05 411.18,198.01 412.11,197.98 413.03,197.95 413.95,197.91 414.88,197.88 415.8,197.85 416.73,197.82 417.65,197.79 418.58,197.76 419.5,197.74 420.43,197.71 421.35,197.68 422.28,197.65 423.2,197.63"/>
<polyline stroke="#77AC30" points="238.3,341 239.22,341 240.15,340.98 241.07,340.88 242,340.61 242.92,340.08 243.85,339.28 244.77,338.16 245.7,336.76 246.62,335.07 247.55,333.14 248.47,330.99 249.39,328.66 250.32,326.18 251.24,323.57 252.17,320.86 253.09,318.09 254.02,315.26 254.94,312.4 255.87,309.53 256.79,306.65 257.71,303.79 258.64,300.95 259.56,298.14 260.49,295.36 261.41,292.63 262.34,289.95 263.26,287.32 264.19,284.75 265.11,282.23 266.04,279.77 266.96,277.38 267.88,275.04 268.81,272.77 269.73,270.55 270.66,268.4 271.58,266.48 272.51,264.62 273.43,262.8 274.36,261.05 275.28,259.34 276.2,257.68 277.13,256.07 278.05,254.51 278.98,252.99 279.9,251.52 280.83,250.09 281.75,248.71 282.68,247.36 283.6,246.05 284.52,244.79 285.45,243.56 286.37,242.36 287.3,241.21 288.22,240.08 289.15,238.99 290.07,237.93 291,236.9 291.92,235.9 292.85,234.93 293.77,233.99 294.69,233.07 295.62,232.18 296.54,231.32 297.47,230.48 298.39,229.66 299.32,228.87 300.24,228.1 301.17,227.35 302.09,226.62 303.01,225.91 303.94,225.23 304.86,224.56 305.79,223.91 306.71,223.27 307.64,222.66 308.56,222.06 309.49,221.47 310.41,220.9 311.34,220.35 312.26,219.81 313.18,219.29 314.11,218.78 315.03,218.28 315.96,217.8 316.88,217.33 317.81,216.87 318.73,216.42 319.66,215.99 320.58,215.56 321.5,215.15 322.43,214.75 323.35,214.35 324.28,213.97 325.2,213.6 326.13,213.23 327.05,212.88 327.98,212.53 328.9,212.19 329.83,211.86 330.75,211.54 331.67,211.23 332.6,210.92 333.52,210.62 334.45,210.33 335.37,210.04 336.3,209.77 337.22,209.49 338.15,209.23 339.07,208.97 340,208.72 340.92,208.47 341.84,208.23 342.77,207.99 343.69,207.76 344.62,207.54 345.54,207.32 346.47,207.1 347.39,206.89 348.32,206.69 349.24,206.48 350.16,206.29 351.09,206.1 352.01,205.91 352.94,205.73 353.86,205.55 354.79,205.37 355.71,205.2 356.64,205.03 357.56,204.87 358.49,204.7 359.41,204.55 360.33,204.39 361.26,204.24 362.18,204.09 363.11,203.95 364.03,203.81 364.96,203.67 365.88,203.53 366.81,203.4 367.73,203.27 368.65,203.14 369.58,203.02 370.5,202.9 371.43,202.78 372.35,202.66 373.28,202.54 374.2,202.43 375.13,202.32 376.05,202.21 376.98,202.11 377.9,202 378.82,201.9 379.75,201.8 380.67,201.7 381.6,201.61 382.52,201.51 383.45,201.42 384.37,201.33 385.3,201.24 386.22,201.16 387.14,201.07 388.07,200.99 388.99,200.9 389.92,200.82 390.84,200.75 391.77,200.67 392.69,200.59 393.62,200.52 394.54,200.44 395.46,200.37 396.39,200.3 397.31,200.23 398.24,200.16 399.16,200.1 400.09,200.03 401.01,199.97 401.94,199.91 402.86,199.84 403.79,199.78 404.71,199.72 405.63,199.66 406.56,199.61 407.48,199.55 408.41,199.49 409.33,199.44 410.26,199.39 411.18,199.33 412.11,199.28 413.03,199.23 413.95,199.18 414.88,199.13 415.8,199.08 416.73,199.04 417.65,198.99 418.58,198.94 419.5,198.9 420.43,198.85 421.35,198.81 422.28,198.77 423.2,198.73"/>
<polyline stroke="#4DBEEE" points="238.3,341 239.22,341 240.15,340.9 241.07,340.51 242,339.71 242.92,338.46 243.85,336.77 244.77,334.69 245.7,332.29 246.62,329.63 247.55,326.76 248.47,323.73 249.39,320.6 250.32,317.39 251.24,314.14 252.17,310.89 253.09,307.63 254.02,304.41 254.94,301.23 255.87,298.09 256.79,295.02 257.71,292.01 258.64,289.08 259.56,286.22 260.49,283.43 261.41,280.73 262.34,278.11 263.26,275.56 264.19,273.1 265.11,270.71 266.04,268.4 266.96,266.29 267.88,264.25 268.81,262.28 269.73,260.37 270.66,258.53 271.58,256.75 272.51,255.02 273.43,253.36 274.36,251.75 275.28,250.19 276.2,248.69 277.13,247.24 278.05,245.83 278.98,244.47 279.9,243.16 280.83,241.89 281.75,240.66 282.68,239.47 283.6,238.32 284.52,237.21 285.45,236.13 286.37,235.08 287.3,234.07 288.22,233.09 289.15,232.15 290.07,231.23 291,230.34 291.92,229.48 292.85,228.64 293.77,227.83 294.69,227.05 295.62,226.28 296.54,225.55 297.47,224.83 298.39,224.13 299.32,223.46 300.24,222.81 301.17,222.17 302.09,221.55 303.01,220.95 303.94,220.37 304.86,219.81 305.79,219.26 306.71,218.72 307.64,218.21 308.56,217.7 309.49,217.21 310.41,216.74 311.34,216.27 312.26,215.82 313.18,215.38 314.11,214.96 315.03,214.54 315.96,214.14 316.88,213.75 317.81,213.36 318.73,212.99 319.66,212.63 320.58,212.28 321.5,211.93 322.43,211.6 323.35,211.27 324.28,210.95 325.2,210.64 326.13,210.34 327.05,210.05 327.98,209.76 328.9,209.48 329.83,209.21 330.75,208.94 331.67,208.68 332.6,208.43 333.52,208.18 334.45,207.94 335.37,207.7 336.3,207.47 337.22,207.25 338.15,207.03 339.07,206.81 340,206.61 340.92,206.4 341.84,206.2 342.77,206.01 343.69,205.82 344.62,205.63 345.54,205.45 346.47,205.27 347.39,205.1 348.32,204.93 349.24,204.76 350.16,204.6 351.09,204.44 352.01,204.29 352.94,204.14 353.86,203.99 354.79,203.85 355.71,203.7 356.64,203.56 357.56,203.43 358.49,203.3 359.41,203.17 360.33,203.04 361.26,202.92 362.18,202.79 363.11,202.67 364.03,202.56 364.96,202.44 365.88,202.33 366.81,202.22 367.73,202.11 368.65,202.01 369.58,201.91 370.5,201.8 371.43,201.71 372.35,201.61 373.28,201.51 374.2,201.42 375.13,201.33 376.05,201.24 376.98,201.15 377.9,201.07 378.82,200.98 379.75,200.9 380.67,200.82 381.6,200.74 382.52,200.66 383.45,200.59 384.37,200.51 385.3,200.44 386.22,200.37 387.14,200.3 388.07,200.23 388.99,200.16 389.92,200.09 390.84,200.03 391.77,199.96 392.69,199.9 393.62,199.84 394.54,199.78 395.46,199.72 396.39,199.66 397.31,199.6 398.24,199.54 399.16,199.49 400.09,199.43 401.01,199.38 401.94,199.33 402.86,199.28 403.79,199.23 404.71,199.18 405.63,199.13 406.56,199.08 407.48,199.03 408.41,198.99 409.33,198.94 410.26,198.9 411.18,198.85 412.11,198.81 413.03,198.77 413.95,198.72 414.88,198.68 415.8,198.64 416.73,198.6 417.65,198.56 418.58,198.53 419.5,198.49 420.43,198.45 421.35,198.41 422.28,198.38 423.2,198.34"/>
<polyline stroke="#A2142F" points="238.3,341 239.22,341 240.15,340.94 241.07,340.68 242,340.11 242.92,339.16 243.85,337.83 244.77,336.13 245.7,334.11 246.62,331.82 247.55,329.3 248.47,326.61 249.39,323.77 250.32,320.83 251.24,317.82 252.17,314.77 253.09,311.69 254.02,308.62 254.94,305.56 255.87,302.52 256.79,299.53 257.71,296.58 258.64,293.69 259.56,290.85 260.49,288.08 261.41,285.38 262.34,282.74 263.26,280.18 264.19,277.68 265.11,275.25 266.04,272.9 266.96,270.62 267.88,268.4 268.81,266.3 269.73,264.27 270.66,262.3 271.58,260.4 272.51,258.55 273.43,256.77 274.36,255.04 275.28,253.37 276.2,251.75 277.13,250.18 278.05,248.66 278.98,247.19 279.9,245.77 280.83,244.4 281.75,243.07 282.68,241.78 283.6,240.53 284.52,239.33 285.45,238.16 286.37,237.03 287.3,235.93 288.22,234.87 289.15,233.84 290.07,232.85 291,231.88 291.92,230.95 292.85,230.04 293.77,229.17 294.69,228.31 295.62,227.49 296.54,226.69 297.47,225.91 298.39,225.16 299.32,224.43 300.24,223.73 301.17,223.04 302.09,222.37 303.01,221.73 303.94,221.1 304.86,220.49 305.79,219.9 306.71,219.32 307.64,218.76 308.56,218.22 309.49,217.7 310.41,217.18 311.34,216.69 312.26,216.2 313.18,215.73 314.11,215.28 315.03,214.83 315.96,214.4 316.88,213.98 317.81,213.57 318.73,213.18 319.66,212.79 320.58,212.41 321.5,212.05 322.43,211.69 323.35,211.34 324.28,211 325.2,210.68 326.13,210.36 327.05,210.04 327.98,209.74 328.9,209.44 329.83,209.15 330.75,208.87 331.67,208.6 332.6,208.33 333.52,208.07 334.45,207.82 335.37,207.57 336.3,207.33 337.22,207.09 338.15,206.87 339.07,206.64 340,206.42 340.92,206.21 341.84,206 342.77,205.8 343.69,205.6 344.62,205.41 345.54,205.22 346.47,205.04 347.39,204.86 348.32,204.68 349.24,204.51 350.16,204.34 351.09,204.18 352.01,204.02 352.94,203.86 353.86,203.71 354.79,203.56 355.71,203.41 356.64,203.27 357.56,203.13 358.49,203 359.41,202.86 360.33,202.73 361.26,202.61 362.18,202.48 363.11,202.36 364.03,202.24 364.96,202.12 365.88,202.01 366.81,201.9 367.73,201.79 368.65,201.68 369.58,201.58 370.5,201.48 371.43,201.38 372.35,201.28 373.28,201.18 374.2,201.09 375.13,201 376.05,200.91 376.98,200.82 377.9,200.73 378.82,200.65 379.75,200.57 380.67,200.48 381.6,200.41 382.52,200.33 383.45,200.25 384.37,200.18 385.3,200.1 386.22,200.03 387.14,199.96 388.07,199.89 388.99,199.83 389.92,199.76 390.84,199.69 391.77,199.63 392.69,199.57 393.62,199.51 394.54,199.45 395.46,199.39 396.39,199.33 397.31,199.28 398.24,199.22 399.16,199.17 400.09,199.11 401.01,199.06 401.94,199.01 402.86,198.96 403.79,198.91 404.71,198.86 405.63,198.81 406.56,198.77 407.48,198.72 408.41,198.68 409.33,198.63 410.26,198.59 411.18,198.55 412.11,198.5 413.03,198.46 413.95,198.42 414.88,198.38 415.8,198.34 416.73,198.31 417.65,198.27 418.58,198.23 419.5,198.2 420.43,198.16 421.35,198.12 422.28,198.09 423.2,198.06"/>
<polyline stroke="#0072BD" points="238.3,341 239.22,341 240.15,341 241.07,341 242,341 242.92,341 243.85,341 244.77,341 245.7,341 246.62,341 247.55,341 248.47,341 249.39,341 250.32,341 251.24,341 252.17,341 253.09,341 254.02,341 254.94,341 255.87,341 256.79,341 257.71,341 258.64,341 259.56,341 260.49,341 261.41,340.99 262.34,340.98 263.26,340.97 264.19,340.95 265.11,340.91 266.04,340.86 266.96,340.79 267.88,340.68 268.81,340.53 269.73,340.33 270.66,340.07 271.58,339.73 272.51,339.3 273.43,338.76 274.36,338.11 275.28,337.32 276.2,336.39 277.13,335.3 278.05,334.04 278.98,332.6 279.9,330.98 280.83,329.17 281.75,327.17 282.68,324.99 283.6,322.62 284.52,320.07 285.45,317.34 286.37,314.46 287.3,311.43 288.22,308.26 289.15,304.98 290.07,301.59 291,298.11 291.92,294.56 292.85,290.95 293.77,287.31 294.69,283.65 295.62,279.98 296.54,276.33 297.47,272.7 298.39,269.11 299.32,264.54 300.24,259.97 301.17,255.67 302.09,251.66 303.01,247.92 303.94,244.44 304.86,241.21 305.79,238.21 306.71,235.43 307.64,232.86 308.56,230.48 309.49,228.28 310.41,226.24 311.34,224.36 312.26,222.61 313.18,221 314.11,219.5 315.03,218.12 315.96,216.83 316.88,215.64 317.81,214.53 318.73,213.5 319.66,212.55 320.58,211.65 321.5,210.82 322.43,210.05 323.35,209.33 324.28,208.66 325.2,208.03 326.13,207.44 327.05,206.89 327.98,206.37 328.9,205.88 329.83,205.43 330.75,205 331.67,204.6 332.6,204.22 333.52,203.87 334.45,203.53 335.37,203.21 336.3,202.92 337.22,202.63 338.15,202.37 339.07,202.11 340,201.88 340.92,201.65 341.84,201.44 342.77,201.23 343.69,201.04 344.62,200.86 345.54,200.68 346.47,200.52 347.39,200.36 348.32,200.21 349.24,200.06 350.16,199.93 351.09,199.8 352.01,199.67 352.94,199.55 353.86,199.44 354.79,199.33 355.71,199.23 356.64,199.13 357.56,199.03 358.49,198.94 359.41,198.86 360.33,198.77 361.26,198.69 362.18,198.61 363.11,198.54 364.03,198.47 364.96,198.4 365.88,198.33 366.81,198.27 367.73,198.21 368.65,198.15 369.58,198.09 370.5,198.04 371.43,197.99 372.35,197.94 373.28,197.89 374.2,197.84 375.13,197.79 376.05,197.75 376.98,197.71 377.9,197.67 378.82,197.63 379.75,197.59 380.67,197.55 381.6,197.52 382.52,197.48 383.45,197.45 384.37,197.41 385.3,197.38 386.22,197.35 387.14,197.32 388.07,197.29 388.99,197.26 389.92,197.24 390.84,197.21 391.77,197.18 392.69,197.16 393.62,197.14 394.54,197.11 395.46,197.09 396.39,197.07 397.31,197.05 398.24,197.02 399.16,197 400.09,196.98 401.01,196.96 401.94,196.95 402.86,196.93 403.79,196.91 404.71,196.89 405.63,196.87 406.56,196.86 407.48,196.84 408.41,196.83 409.33,196.81 410.26,196.8 411.18,196.78 412.11,196.77 413.03,196.75 413.95,196.74 414.88,196.73 415.8,196.71 416.73,196.7 417.65,196.69 418.58,196.67 419.5,196.66 420.43,196.65 421.35,196.64 422.28,196.63 423.2,196.62"/>
</g>
<g class="tk"><text transform="translate(238.3,349.1) scale(1.1,1)" text-anchor="middle">0</text><text transform="translate(256.79,349.1) scale(1.1,1)" text-anchor="middle">1</text><text transform="translate(275.28,349.1) scale(1.1,1)" text-anchor="middle">2</text><text transform="translate(293.77,349.1) scale(1.1,1)" text-anchor="middle">3</text><text transform="translate(312.26,349.1) scale(1.1,1)" text-anchor="middle">4</text><text transform="translate(330.75,349.1) scale(1.1,1)" text-anchor="middle">5</text><text transform="translate(349.24,349.1) scale(1.1,1)" text-anchor="middle">6</text><text transform="translate(367.73,349.1) scale(1.1,1)" text-anchor="middle">7</text><text transform="translate(386.22,349.1) scale(1.1,1)" text-anchor="middle">8</text><text transform="translate(404.71,349.1) scale(1.1,1)" text-anchor="middle">9</text><text transform="translate(423.2,349.1) scale(1.1,1)" text-anchor="middle">10</text><text transform="translate(236.7,343) scale(1.1,1)" text-anchor="end">0</text><text transform="translate(236.7,328.48) scale(1.1,1)" text-anchor="end">0.1</text><text transform="translate(236.7,313.96) scale(1.1,1)" text-anchor="end">0.2</text><text transform="translate(236.7,299.44) scale(1.1,1)" text-anchor="end">0.3</text><text transform="translate(236.7,284.92) scale(1.1,1)" text-anchor="end">0.4</text><text transform="translate(236.7,270.4) scale(1.1,1)" text-anchor="end">0.5</text><text transform="translate(236.7,255.88) scale(1.1,1)" text-anchor="end">0.6</text><text transform="translate(236.7,241.36) scale(1.1,1)" text-anchor="end">0.7</text><text transform="translate(236.7,226.84) scale(1.1,1)" text-anchor="end">0.8</text><text transform="translate(236.7,212.32) scale(1.1,1)" text-anchor="end">0.9</text><text transform="translate(236.7,197.8) scale(1.1,1)" text-anchor="end">1</text></g>
<text class="al" x="330.75" y="358.2" text-anchor="middle">Flood Depth (m)</text>
<text class="al" transform="translate(225.9,268.4) rotate(-90)" text-anchor="middle">Probability of Exceedance</text>
<rect x="386.4" y="214.5" width="32.4" height="122" fill="#fff" stroke="#7a7a7a" stroke-width="0.8"/>
<line x1="388.5" x2="405.6" y1="219" y2="219" stroke="#0072BD" stroke-width="1.35"/>
<text class="lg" transform="translate(406.5,221.75) scale(0.97,1)">F1</text>
<line x1="388.5" x2="405.6" y1="227.1" y2="227.1" stroke="#D95319" stroke-width="1.35"/>
<text class="lg" transform="translate(406.5,229.85) scale(0.97,1)">F2</text>
<line x1="388.5" x2="405.6" y1="235.2" y2="235.2" stroke="#EDB120" stroke-width="1.35"/>
<text class="lg" transform="translate(406.5,237.95) scale(0.97,1)">F3</text>
<line x1="388.5" x2="405.6" y1="243.3" y2="243.3" stroke="#7E2F8E" stroke-width="1.35"/>
<text class="lg" transform="translate(406.5,246.05) scale(0.97,1)">F4</text>
<line x1="388.5" x2="405.6" y1="251.4" y2="251.4" stroke="#77AC30" stroke-width="1.35"/>
<text class="lg" transform="translate(406.5,254.15) scale(0.97,1)">F5</text>
<line x1="388.5" x2="405.6" y1="259.5" y2="259.5" stroke="#4DBEEE" stroke-width="1.35"/>
<text class="lg" transform="translate(406.5,262.25) scale(0.97,1)">F6</text>
<line x1="388.5" x2="405.6" y1="267.6" y2="267.6" stroke="#A2142F" stroke-width="1.35"/>
<text class="lg" transform="translate(406.5,270.35) scale(0.97,1)">F7</text>
<line x1="388.5" x2="405.6" y1="275.7" y2="275.7" stroke="#0072BD" stroke-width="1.35"/>
<text class="lg" transform="translate(406.5,278.45) scale(0.97,1)">F8</text>
<line x1="388.5" x2="405.6" y1="283.8" y2="283.8" stroke="#D95319" stroke-width="1.35"/>
<text class="lg" transform="translate(406.5,286.55) scale(0.97,1)">F9</text>
<line x1="388.5" x2="405.6" y1="291.9" y2="291.9" stroke="#EDB120" stroke-width="1.35"/>
<text class="lg" transform="translate(406.5,294.65) scale(0.97,1)">F10</text>
<line x1="388.5" x2="405.6" y1="300" y2="300" stroke="#7E2F8E" stroke-width="1.35"/>
<text class="lg" transform="translate(406.5,302.75) scale(0.97,1)">F11</text>
<line x1="388.5" x2="405.6" y1="308.1" y2="308.1" stroke="#77AC30" stroke-width="1.35"/>
<text class="lg" transform="translate(406.5,310.85) scale(0.97,1)">F12</text>
<line x1="388.5" x2="405.6" y1="316.2" y2="316.2" stroke="#4DBEEE" stroke-width="1.35"/>
<text class="lg" transform="translate(406.5,318.95) scale(0.97,1)">F13</text>
<line x1="388.5" x2="405.6" y1="324.3" y2="324.3" stroke="#A2142F" stroke-width="1.35"/>
<text class="lg" transform="translate(406.5,327.05) scale(0.97,1)">F14</text>
<line x1="388.5" x2="405.6" y1="332.4" y2="332.4" stroke="#0072BD" stroke-width="1.35"/>
<text class="lg" transform="translate(406.5,335.15) scale(0.97,1)">F15</text>
<text class="pl" transform="translate(242.8,210) scale(1.12,1)">(d)</text>
<text class="ds" transform="translate(357.6,335) scale(1.03,1)">DS3</text>
<rect x="132.4" y="381.5" width="184.9" height="145.3" fill="none" stroke="#8c8c8c" stroke-width="0.8"/>
<path d="M132.4,526.8v-1.8M132.4,381.5v1.8M152.94,526.8v-1.8M152.94,381.5v1.8M173.49,526.8v-1.8M173.49,381.5v1.8M194.03,526.8v-1.8M194.03,381.5v1.8M214.58,526.8v-1.8M214.58,381.5v1.8M235.12,526.8v-1.8M235.12,381.5v1.8M255.67,526.8v-1.8M255.67,381.5v1.8M276.21,526.8v-1.8M276.21,381.5v1.8M296.76,526.8v-1.8M296.76,381.5v1.8M317.3,526.8v-1.8M317.3,381.5v1.8M132.4,526.8h1.8M317.3,526.8h-1.8M132.4,512.27h1.8M317.3,512.27h-1.8M132.4,497.74h1.8M317.3,497.74h-1.8M132.4,483.21h1.8M317.3,483.21h-1.8M132.4,468.68h1.8M317.3,468.68h-1.8M132.4,454.15h1.8M317.3,454.15h-1.8M132.4,439.62h1.8M317.3,439.62h-1.8M132.4,425.09h1.8M317.3,425.09h-1.8M132.4,410.56h1.8M317.3,410.56h-1.8M132.4,396.03h1.8M317.3,396.03h-1.8M132.4,381.5h1.8M317.3,381.5h-1.8" stroke="#8c8c8c" stroke-width="0.8" fill="none"/>
<clipPath id="clipe"><rect x="131.7" y="380.7" width="186.3" height="146.9"/></clipPath>
<g clip-path="url(#clipe)" fill="none" stroke-width="1.35" stroke-linejoin="round">
<polyline stroke="#0072BD" points="132.4,526.8 133.43,526.8 134.45,526.8 135.48,526.8 136.51,526.8 137.54,526.8 138.56,526.8 139.59,526.8 140.62,526.8 141.65,526.8 142.67,526.8 143.7,526.8 144.73,526.8 145.75,526.8 146.78,526.79 147.81,526.79 148.84,526.78 149.86,526.77 150.89,526.75 151.92,526.73 152.94,526.69 153.97,526.64 155,526.57 156.03,526.48 157.05,526.35 158.08,526.19 159.11,525.99 160.14,525.73 161.16,525.42 162.19,525.03 163.22,524.57 164.24,524.01 165.27,523.36 166.3,522.6 167.33,521.72 168.35,520.71 169.38,519.58 170.41,518.3 171.43,516.88 172.46,515.32 173.49,513.6 174.52,511.73 175.54,509.72 176.57,507.55 177.6,505.24 178.62,502.8 179.65,500.22 180.68,497.52 181.71,494.7 182.73,491.78 183.76,488.77 184.79,485.67 185.82,482.51 186.84,479.28 187.87,476.01 188.9,472.71 189.92,469.38 190.95,466.05 191.98,462.72 193.01,459.4 194.03,456.11 195.06,452.85 196.09,449.64 197.12,446.48 198.14,443.38 199.17,440.34 200.2,437.38 201.22,434.5 202.25,431.7 203.28,428.99 204.31,426.37 205.33,423.85 206.36,421.42 207.39,419.08 208.41,416.84 209.44,414.7 210.47,412.66 211.5,410.7 212.52,408.85 213.55,407.08 214.58,405.41 215.61,403.83 216.63,402.33 217.66,400.91 218.69,399.57 219.71,398.31 220.74,397.13 221.77,396.02 222.8,394.97 223.82,394 224.85,393.08 225.88,392.22 226.9,391.42 227.93,390.67 228.96,389.98 229.99,389.33 231.01,388.73 232.04,388.16 233.07,387.64 234.1,387.16 235.12,386.71 236.15,386.29 237.18,385.91 238.2,385.55 239.23,385.22 240.26,384.92 241.29,384.64 242.31,384.38 243.34,384.14 244.37,383.92 245.39,383.72 246.42,383.53 247.45,383.36 248.48,383.2 249.5,383.06 250.53,382.92 251.56,382.8 252.59,382.69 253.61,382.59 254.64,382.49 255.67,382.41 256.69,382.33 257.72,382.25 258.75,382.19 259.78,382.13 260.8,382.07 261.83,382.02 262.86,381.98 263.88,381.93 264.91,381.89 265.94,381.86 266.97,381.83 267.99,381.8 269.02,381.77 270.05,381.75 271.08,381.72 272.1,381.7 273.13,381.69 274.16,381.67 275.18,381.65 276.21,381.64 277.24,381.63 278.27,381.62 279.29,381.6 280.32,381.59 281.35,381.59 282.37,381.58 283.4,381.57 284.43,381.56 285.46,381.56 286.48,381.55 287.51,381.55 288.54,381.54 289.57,381.54 290.59,381.54 291.62,381.53 292.65,381.53 293.67,381.53 294.7,381.52 295.73,381.52 296.76,381.52 297.78,381.52 298.81,381.52 299.84,381.52 300.86,381.51 301.89,381.51 302.92,381.51 303.95,381.51 304.97,381.51 306,381.51 307.03,381.51 308.06,381.51 309.08,381.51 310.11,381.51 311.14,381.51 312.16,381.5 313.19,381.5 314.22,381.5 315.25,381.5 316.27,381.5 317.3,381.5"/>
<polyline stroke="#D95319" points="132.4,526.79 133.43,526.79 134.45,526.78 135.48,526.76 136.51,526.73 137.54,526.69 138.56,526.62 139.59,526.53 140.62,526.39 141.65,526.2 142.67,525.95 143.7,525.63 144.73,525.21 145.75,524.69 146.78,524.05 147.81,523.27 148.84,522.35 149.86,521.27 150.89,520.03 151.92,518.61 152.94,517.01 153.97,515.22 155,513.25 156.03,511.1 157.05,508.78 158.08,506.28 159.11,503.62 160.14,500.8 161.16,497.85 162.19,494.77 163.22,491.57 164.24,488.28 165.27,484.91 166.3,481.47 167.33,477.99 168.35,474.47 169.38,470.93 170.41,467.39 171.43,463.86 172.46,460.36 173.49,456.89 174.52,453.56 175.54,450.61 176.57,447.72 177.6,444.9 178.62,442.14 179.65,439.45 180.68,436.83 181.71,434.28 182.73,431.82 183.76,429.43 184.79,427.12 185.82,424.89 186.84,422.74 187.87,420.67 188.9,418.69 189.92,416.78 190.95,414.95 191.98,413.2 193.01,411.52 194.03,409.91 195.06,408.38 196.09,406.92 197.12,405.53 198.14,404.2 199.17,402.94 200.2,401.74 201.22,400.59 202.25,399.51 203.28,398.48 204.31,397.51 205.33,396.58 206.36,395.71 207.39,394.88 208.41,394.09 209.44,393.35 210.47,392.65 211.5,391.99 212.52,391.36 213.55,390.77 214.58,390.22 215.61,389.69 216.63,389.19 217.66,388.73 218.69,388.29 219.71,387.87 220.74,387.49 221.77,387.12 222.8,386.77 223.82,386.45 224.85,386.14 225.88,385.86 226.9,385.59 227.93,385.33 228.96,385.09 229.99,384.87 231.01,384.66 232.04,384.46 233.07,384.28 234.1,384.11 235.12,383.94 236.15,383.79 237.18,383.65 238.2,383.51 239.23,383.38 240.26,383.27 241.29,383.15 242.31,383.05 243.34,382.95 244.37,382.86 245.39,382.78 246.42,382.7 247.45,382.62 248.48,382.55 249.5,382.48 250.53,382.42 251.56,382.36 252.59,382.31 253.61,382.26 254.64,382.21 255.67,382.16 256.69,382.12 257.72,382.08 258.75,382.05 259.78,382.01 260.8,381.98 261.83,381.95 262.86,381.92 263.88,381.89 264.91,381.87 265.94,381.85 266.97,381.82 267.99,381.8 269.02,381.79 270.05,381.77 271.08,381.75 272.1,381.73 273.13,381.72 274.16,381.71 275.18,381.69 276.21,381.68 277.24,381.67 278.27,381.66 279.29,381.65 280.32,381.64 281.35,381.63 282.37,381.62 283.4,381.62 284.43,381.61 285.46,381.6 286.48,381.6 287.51,381.59 288.54,381.58 289.57,381.58 290.59,381.57 291.62,381.57 292.65,381.57 293.67,381.56 294.7,381.56 295.73,381.55 296.76,381.55 297.78,381.55 298.81,381.54 299.84,381.54 300.86,381.54 301.89,381.54 302.92,381.53 303.95,381.53 304.97,381.53 306,381.53 307.03,381.53 308.06,381.53 309.08,381.52 310.11,381.52 311.14,381.52 312.16,381.52 313.19,381.52 314.22,381.52 315.25,381.52 316.27,381.52 317.3,381.51"/>
<polyline stroke="#EDB120" points="132.4,526.8 133.43,526.8 134.45,526.8 135.48,526.8 136.51,526.8 137.54,526.8 138.56,526.8 139.59,526.8 140.62,526.8 141.65,526.8 142.67,526.8 143.7,526.8 144.73,526.8 145.75,526.8 146.78,526.8 147.81,526.8 148.84,526.8 149.86,526.8 150.89,526.8 151.92,526.8 152.94,526.79 153.97,526.79 155,526.78 156.03,526.78 157.05,526.77 158.08,526.76 159.11,526.74 160.14,526.72 161.16,526.7 162.19,526.66 163.22,526.62 164.24,526.57 165.27,526.51 166.3,526.44 167.33,526.35 168.35,526.24 169.38,526.12 170.41,525.97 171.43,525.8 172.46,525.6 173.49,525.37 174.52,525.1 175.54,524.81 176.57,524.47 177.6,524.09 178.62,523.67 179.65,523.21 180.68,522.69 181.71,522.13 182.73,521.51 183.76,520.83 184.79,520.1 185.82,519.31 186.84,518.46 187.87,517.55 188.9,516.58 189.92,515.54 190.95,514.44 191.98,513.28 193.01,512.06 194.03,510.77 195.06,509.42 196.09,508.02 197.12,506.55 198.14,505.03 199.17,503.45 200.2,501.82 201.22,500.14 202.25,498.41 203.28,496.64 204.31,494.82 205.33,492.96 206.36,491.06 207.39,489.13 208.41,487.17 209.44,485.18 210.47,483.17 211.5,481.13 212.52,479.08 213.55,477.01 214.58,474.93 215.61,472.84 216.63,470.75 217.66,468.65 218.69,466.56 219.71,464.47 220.74,462.38 221.77,460.3 222.8,458.24 223.82,456.19 224.85,454.15 225.88,452.56 226.9,450.99 227.93,449.43 228.96,447.89 229.99,446.37 231.01,444.86 232.04,443.38 233.07,441.91 234.1,440.47 235.12,439.04 236.15,437.64 237.18,436.26 238.2,434.9 239.23,433.56 240.26,432.24 241.29,430.95 242.31,429.68 243.34,428.44 244.37,427.21 245.39,426.01 246.42,424.84 247.45,423.68 248.48,422.55 249.5,421.44 250.53,420.36 251.56,419.3 252.59,418.26 253.61,417.24 254.64,416.25 255.67,415.28 256.69,414.33 257.72,413.4 258.75,412.49 259.78,411.61 260.8,410.74 261.83,409.9 262.86,409.08 263.88,408.28 264.91,407.49 265.94,406.73 266.97,405.99 267.99,405.26 269.02,404.56 270.05,403.87 271.08,403.2 272.1,402.55 273.13,401.91 274.16,401.3 275.18,400.7 276.21,400.11 277.24,399.54 278.27,398.99 279.29,398.45 280.32,397.93 281.35,397.42 282.37,396.93 283.4,396.45 284.43,395.99 285.46,395.53 286.48,395.09 287.51,394.67 288.54,394.25 289.57,393.85 290.59,393.46 291.62,393.08 292.65,392.72 293.67,392.36 294.7,392.01 295.73,391.68 296.76,391.35 297.78,391.04 298.81,390.73 299.84,390.43 300.86,390.15 301.89,389.87 302.92,389.6 303.95,389.33 304.97,389.08 306,388.83 307.03,388.6 308.06,388.37 309.08,388.14 310.11,387.93 311.14,387.72 312.16,387.51 313.19,387.32 314.22,387.12 315.25,386.94 316.27,386.76 317.3,386.59"/>
<polyline stroke="#7E2F8E" points="132.4,526.8 133.43,526.8 134.45,526.8 135.48,526.8 136.51,526.8 137.54,526.79 138.56,526.79 139.59,526.78 140.62,526.77 141.65,526.75 142.67,526.73 143.7,526.7 144.73,526.65 145.75,526.6 146.78,526.53 147.81,526.44 148.84,526.33 149.86,526.19 150.89,526.02 151.92,525.82 152.94,525.58 153.97,525.3 155,524.98 156.03,524.6 157.05,524.17 158.08,523.68 159.11,523.13 160.14,522.51 161.16,521.83 162.19,521.08 163.22,520.25 164.24,519.35 165.27,518.38 166.3,517.33 167.33,516.2 168.35,515 169.38,513.72 170.41,512.37 171.43,510.94 172.46,509.44 173.49,507.87 174.52,506.23 175.54,504.53 176.57,502.77 177.6,500.95 178.62,499.07 179.65,497.15 180.68,495.18 181.71,493.16 182.73,491.11 183.76,489.02 184.79,486.9 185.82,484.76 186.84,482.59 187.87,480.4 188.9,478.21 189.92,476 190.95,473.78 191.98,471.57 193.01,469.35 194.03,467.14 195.06,464.94 196.09,462.75 197.12,460.57 198.14,458.41 199.17,456.27 200.2,454.15 201.22,452.52 202.25,450.9 203.28,449.31 204.31,447.74 205.33,446.19 206.36,444.66 207.39,443.15 208.41,441.67 209.44,440.22 210.47,438.78 211.5,437.37 212.52,435.99 213.55,434.63 214.58,433.3 215.61,431.99 216.63,430.71 217.66,429.45 218.69,428.21 219.71,427 220.74,425.82 221.77,424.66 222.8,423.53 223.82,422.42 224.85,421.33 225.88,420.27 226.9,419.23 227.93,418.22 228.96,417.23 229.99,416.26 231.01,415.32 232.04,414.39 233.07,413.49 234.1,412.61 235.12,411.76 236.15,410.92 237.18,410.1 238.2,409.31 239.23,408.53 240.26,407.78 241.29,407.04 242.31,406.32 243.34,405.62 244.37,404.94 245.39,404.28 246.42,403.63 247.45,403.01 248.48,402.39 249.5,401.8 250.53,401.22 251.56,400.65 252.59,400.1 253.61,399.57 254.64,399.05 255.67,398.55 256.69,398.05 257.72,397.58 258.75,397.11 259.78,396.66 260.8,396.22 261.83,395.79 262.86,395.38 263.88,394.98 264.91,394.58 265.94,394.2 266.97,393.83 267.99,393.47 269.02,393.12 270.05,392.78 271.08,392.45 272.1,392.13 273.13,391.82 274.16,391.52 275.18,391.23 276.21,390.94 277.24,390.67 278.27,390.4 279.29,390.14 280.32,389.88 281.35,389.64 282.37,389.4 283.4,389.17 284.43,388.94 285.46,388.72 286.48,388.51 287.51,388.3 288.54,388.1 289.57,387.91 290.59,387.72 291.62,387.54 292.65,387.36 293.67,387.19 294.7,387.02 295.73,386.86 296.76,386.7 297.78,386.55 298.81,386.4 299.84,386.26 300.86,386.12 301.89,385.98 302.92,385.85 303.95,385.72 304.97,385.6 306,385.48 307.03,385.36 308.06,385.25 309.08,385.14 310.11,385.04 311.14,384.93 312.16,384.83 313.19,384.73 314.22,384.64 315.25,384.55 316.27,384.46 317.3,384.37"/>
<polyline stroke="#77AC30" points="132.4,526.8 133.43,526.8 134.45,526.8 135.48,526.8 136.51,526.8 137.54,526.8 138.56,526.8 139.59,526.8 140.62,526.8 141.65,526.8 142.67,526.8 143.7,526.8 144.73,526.79 145.75,526.79 146.78,526.78 147.81,526.77 148.84,526.76 149.86,526.73 150.89,526.7 151.92,526.66 152.94,526.6 153.97,526.53 155,526.43 156.03,526.3 157.05,526.14 158.08,525.94 159.11,525.7 160.14,525.4 161.16,525.05 162.19,524.62 163.22,524.13 164.24,523.55 165.27,522.89 166.3,522.13 167.33,521.28 168.35,520.31 169.38,519.24 170.41,518.06 171.43,516.76 172.46,515.34 173.49,513.8 174.52,512.14 175.54,510.37 176.57,508.48 177.6,506.47 178.62,504.35 179.65,502.13 180.68,499.81 181.71,497.4 182.73,494.9 183.76,492.32 184.79,489.66 185.82,486.95 186.84,484.18 187.87,481.36 188.9,478.5 189.92,475.62 190.95,472.71 191.98,469.79 193.01,466.87 194.03,463.95 195.06,461.04 196.09,458.15 197.12,455.29 198.14,452.45 199.17,449.66 200.2,446.91 201.22,444.2 202.25,441.55 203.28,438.95 204.31,436.42 205.33,433.94 206.36,431.54 207.39,429.2 208.41,426.93 209.44,424.73 210.47,422.6 211.5,420.55 212.52,418.57 213.55,416.66 214.58,414.83 215.61,413.07 216.63,411.38 217.66,409.76 218.69,408.21 219.71,406.72 220.74,405.31 221.77,403.96 222.8,402.67 223.82,401.45 224.85,400.28 225.88,399.17 226.9,398.12 227.93,397.12 228.96,396.18 229.99,395.28 231.01,394.44 232.04,393.64 233.07,392.88 234.1,392.17 235.12,391.49 236.15,390.86 237.18,390.26 238.2,389.69 239.23,389.16 240.26,388.66 241.29,388.19 242.31,387.75 243.34,387.34 244.37,386.95 245.39,386.59 246.42,386.25 247.45,385.93 248.48,385.63 249.5,385.35 250.53,385.08 251.56,384.84 252.59,384.61 253.61,384.39 254.64,384.19 255.67,384.01 256.69,383.83 257.72,383.67 258.75,383.52 259.78,383.37 260.8,383.24 261.83,383.12 262.86,383 263.88,382.9 264.91,382.8 265.94,382.7 266.97,382.62 267.99,382.54 269.02,382.46 270.05,382.39 271.08,382.33 272.1,382.27 273.13,382.21 274.16,382.16 275.18,382.11 276.21,382.07 277.24,382.03 278.27,381.99 279.29,381.95 280.32,381.92 281.35,381.89 282.37,381.86 283.4,381.83 284.43,381.81 285.46,381.79 286.48,381.77 287.51,381.75 288.54,381.73 289.57,381.71 290.59,381.7 291.62,381.68 292.65,381.67 293.67,381.65 294.7,381.64 295.73,381.63 296.76,381.62 297.78,381.61 298.81,381.61 299.84,381.6 300.86,381.59 301.89,381.58 302.92,381.58 303.95,381.57 304.97,381.57 306,381.56 307.03,381.56 308.06,381.55 309.08,381.55 310.11,381.54 311.14,381.54 312.16,381.54 313.19,381.54 314.22,381.53 315.25,381.53 316.27,381.53 317.3,381.53"/>
<polyline stroke="#4DBEEE" points="132.4,526.8 133.43,526.8 134.45,526.8 135.48,526.8 136.51,526.8 137.54,526.8 138.56,526.8 139.59,526.8 140.62,526.8 141.65,526.8 142.67,526.8 143.7,526.8 144.73,526.8 145.75,526.8 146.78,526.8 147.81,526.8 148.84,526.8 149.86,526.8 150.89,526.8 151.92,526.8 152.94,526.8 153.97,526.8 155,526.8 156.03,526.8 157.05,526.8 158.08,526.8 159.11,526.8 160.14,526.8 161.16,526.8 162.19,526.8 163.22,526.8 164.24,526.8 165.27,526.8 166.3,526.8 167.33,526.8 168.35,526.8 169.38,526.8 170.41,526.8 171.43,526.8 172.46,526.8 173.49,526.8 174.52,526.8 175.54,526.8 176.57,526.8 177.6,526.8 178.62,526.8 179.65,526.8 180.68,526.8 181.71,526.79 182.73,526.79 183.76,526.79 184.79,526.79 185.82,526.78 186.84,526.77 187.87,526.77 188.9,526.76 189.92,526.74 190.95,526.73 191.98,526.71 193.01,526.69 194.03,526.66 195.06,526.62 196.09,526.58 197.12,526.53 198.14,526.47 199.17,526.4 200.2,526.32 201.22,526.22 202.25,526.11 203.28,525.98 204.31,525.83 205.33,525.66 206.36,525.47 207.39,525.25 208.41,525 209.44,524.72 210.47,524.41 211.5,524.07 212.52,523.69 213.55,523.27 214.58,522.81 215.61,522.3 216.63,521.75 217.66,521.15 218.69,520.5 219.71,519.79 220.74,519.04 221.77,518.22 222.8,517.36 223.82,516.43 224.85,515.44 225.88,514.4 226.9,513.29 227.93,512.13 228.96,510.9 229.99,509.61 231.01,508.27 232.04,506.86 233.07,505.4 234.1,503.87 235.12,502.3 236.15,500.67 237.18,498.98 238.2,497.25 239.23,495.47 240.26,493.64 241.29,491.77 242.31,489.86 243.34,487.91 244.37,485.93 245.39,483.91 246.42,481.87 247.45,479.8 248.48,477.7 249.5,475.59 250.53,473.47 251.56,471.33 252.59,469.18 253.61,467.03 254.64,464.87 255.67,462.71 256.69,460.56 257.72,458.41 258.75,456.28 259.78,454.15 260.8,452.04 261.83,449.95 262.86,447.87 263.88,445.82 264.91,443.79 265.94,441.79 266.97,439.82 267.99,437.87 269.02,435.96 270.05,434.09 271.08,432.24 272.1,430.43 273.13,428.66 274.16,426.93 275.18,425.24 276.21,423.58 277.24,421.97 278.27,420.39 279.29,418.86 280.32,417.36 281.35,415.91 282.37,414.5 283.4,413.14 284.43,411.81 285.46,410.52 286.48,409.28 287.51,408.07 288.54,406.91 289.57,405.78 290.59,404.69 291.62,403.64 292.65,402.63 293.67,401.66 294.7,400.72 295.73,399.82 296.76,398.95 297.78,398.12 298.81,397.32 299.84,396.55 300.86,395.81 301.89,395.11 302.92,394.43 303.95,393.78 304.97,393.16 306,392.57 307.03,392 308.06,391.46 309.08,390.94 310.11,390.45 311.14,389.98 312.16,389.53 313.19,389.1 314.22,388.7 315.25,388.31 316.27,387.94 317.3,387.59"/>
<polyline stroke="#A2142F" points="132.4,526.8 133.43,526.8 134.45,526.8 135.48,526.8 136.51,526.8 137.54,526.8 138.56,526.8 139.59,526.8 140.62,526.8 141.65,526.8 142.67,526.8 143.7,526.79 144.73,526.79 145.75,526.79 146.78,526.78 147.81,526.77 148.84,526.75 149.86,526.73 150.89,526.7 151.92,526.65 152.94,526.6 153.97,526.53 155,526.44 156.03,526.33 157.05,526.18 158.08,526.01 159.11,525.8 160.14,525.56 161.16,525.26 162.19,524.91 163.22,524.51 164.24,524.04 165.27,523.51 166.3,522.91 167.33,522.23 168.35,521.47 169.38,520.63 170.41,519.7 171.43,518.68 172.46,517.57 173.49,516.36 174.52,515.07 175.54,513.67 176.57,512.19 177.6,510.61 178.62,508.93 179.65,507.17 180.68,505.33 181.71,503.4 182.73,501.39 183.76,499.3 184.79,497.15 185.82,494.93 186.84,492.65 187.87,490.31 188.9,487.93 189.92,485.5 190.95,483.04 191.98,480.54 193.01,478.02 194.03,475.48 195.06,472.93 196.09,470.37 197.12,467.81 198.14,465.25 199.17,462.7 200.2,460.16 201.22,457.64 202.25,455.14 203.28,452.67 204.31,450.23 205.33,447.82 206.36,445.45 207.39,443.12 208.41,440.83 209.44,438.59 210.47,436.4 211.5,434.25 212.52,432.15 213.55,430.11 214.58,428.12 215.61,426.19 216.63,424.31 217.66,422.48 218.69,420.71 219.71,418.99 220.74,417.33 221.77,415.73 222.8,414.18 223.82,412.69 224.85,411.24 225.88,409.85 226.9,408.52 227.93,407.23 228.96,406 229.99,404.81 231.01,403.67 232.04,402.58 233.07,401.54 234.1,400.53 235.12,399.57 236.15,398.66 237.18,397.78 238.2,396.95 239.23,396.15 240.26,395.38 241.29,394.66 242.31,393.96 243.34,393.3 244.37,392.67 245.39,392.08 246.42,391.51 247.45,390.97 248.48,390.45 249.5,389.96 250.53,389.5 251.56,389.06 252.59,388.64 253.61,388.24 254.64,387.87 255.67,387.51 256.69,387.17 257.72,386.85 258.75,386.55 259.78,386.26 260.8,385.99 261.83,385.74 262.86,385.49 263.88,385.26 264.91,385.05 265.94,384.84 266.97,384.65 267.99,384.47 269.02,384.29 270.05,384.13 271.08,383.98 272.1,383.83 273.13,383.69 274.16,383.56 275.18,383.44 276.21,383.33 277.24,383.22 278.27,383.12 279.29,383.02 280.32,382.93 281.35,382.85 282.37,382.77 283.4,382.69 284.43,382.62 285.46,382.55 286.48,382.49 287.51,382.43 288.54,382.37 289.57,382.32 290.59,382.27 291.62,382.22 292.65,382.18 293.67,382.14 294.7,382.1 295.73,382.06 296.76,382.03 297.78,382 298.81,381.97 299.84,381.94 300.86,381.91 301.89,381.89 302.92,381.86 303.95,381.84 304.97,381.82 306,381.8 307.03,381.78 308.06,381.76 309.08,381.75 310.11,381.73 311.14,381.72 312.16,381.71 313.19,381.69 314.22,381.68 315.25,381.67 316.27,381.66 317.3,381.65"/>
<polyline stroke="#0072BD" points="132.4,526.8 133.43,526.8 134.45,526.8 135.48,526.8 136.51,526.8 137.54,526.8 138.56,526.8 139.59,526.8 140.62,526.8 141.65,526.8 142.67,526.8 143.7,526.8 144.73,526.8 145.75,526.8 146.78,526.8 147.81,526.8 148.84,526.8 149.86,526.8 150.89,526.8 151.92,526.79 152.94,526.79 153.97,526.78 155,526.78 156.03,526.77 157.05,526.75 158.08,526.73 159.11,526.71 160.14,526.68 161.16,526.63 162.19,526.58 163.22,526.51 164.24,526.43 165.27,526.33 166.3,526.2 167.33,526.05 168.35,525.87 169.38,525.66 170.41,525.42 171.43,525.13 172.46,524.8 173.49,524.42 174.52,523.98 175.54,523.49 176.57,522.94 177.6,522.33 178.62,521.65 179.65,520.9 180.68,520.08 181.71,519.18 182.73,518.2 183.76,517.14 184.79,516 185.82,514.78 186.84,513.48 187.87,512.1 188.9,510.63 189.92,509.09 190.95,507.46 191.98,505.76 193.01,503.99 194.03,502.14 195.06,500.23 196.09,498.25 197.12,496.2 198.14,494.1 199.17,491.95 200.2,489.75 201.22,487.51 202.25,485.22 203.28,482.91 204.31,480.56 205.33,478.19 206.36,475.79 207.39,473.39 208.41,470.97 209.44,468.55 210.47,466.13 211.5,463.71 212.52,461.3 213.55,458.9 214.58,456.51 215.61,454.15 216.63,451.81 217.66,449.5 218.69,447.21 219.71,444.96 220.74,442.75 221.77,440.57 222.8,438.43 223.82,436.33 224.85,434.28 225.88,432.27 226.9,430.31 227.93,428.39 228.96,426.52 229.99,424.71 231.01,422.94 232.04,421.22 233.07,419.55 234.1,417.93 235.12,416.37 236.15,414.85 237.18,413.38 238.2,411.96 239.23,410.59 240.26,409.27 241.29,408 242.31,406.77 243.34,405.59 244.37,404.45 245.39,403.36 246.42,402.31 247.45,401.31 248.48,400.34 249.5,399.41 250.53,398.53 251.56,397.68 252.59,396.87 253.61,396.09 254.64,395.35 255.67,394.64 256.69,393.96 257.72,393.31 258.75,392.7 259.78,392.11 260.8,391.55 261.83,391.02 262.86,390.51 263.88,390.03 264.91,389.57 265.94,389.13 266.97,388.72 267.99,388.32 269.02,387.95 270.05,387.59 271.08,387.25 272.1,386.93 273.13,386.63 274.16,386.34 275.18,386.07 276.21,385.81 277.24,385.57 278.27,385.34 279.29,385.12 280.32,384.91 281.35,384.72 282.37,384.53 283.4,384.36 284.43,384.19 285.46,384.03 286.48,383.89 287.51,383.75 288.54,383.62 289.57,383.49 290.59,383.37 291.62,383.26 292.65,383.16 293.67,383.06 294.7,382.97 295.73,382.88 296.76,382.8 297.78,382.72 298.81,382.65 299.84,382.58 300.86,382.51 301.89,382.45 302.92,382.4 303.95,382.34 304.97,382.29 306,382.24 307.03,382.2 308.06,382.16 309.08,382.12 310.11,382.08 311.14,382.04 312.16,382.01 313.19,381.98 314.22,381.95 315.25,381.92 316.27,381.9 317.3,381.87"/>
<polyline stroke="#D95319" points="132.4,526.8 133.43,526.8 134.45,526.8 135.48,526.8 136.51,526.8 137.54,526.8 138.56,526.8 139.59,526.8 140.62,526.8 141.65,526.8 142.67,526.8 143.7,526.8 144.73,526.8 145.75,526.8 146.78,526.8 147.81,526.8 148.84,526.8 149.86,526.8 150.89,526.8 151.92,526.8 152.94,526.8 153.97,526.8 155,526.8 156.03,526.8 157.05,526.8 158.08,526.8 159.11,526.8 160.14,526.8 161.16,526.8 162.19,526.8 163.22,526.8 164.24,526.8 165.27,526.8 166.3,526.8 167.33,526.8 168.35,526.8 169.38,526.8 170.41,526.8 171.43,526.8 172.46,526.8 173.49,526.8 174.52,526.8 175.54,526.8 176.57,526.8 177.6,526.8 178.62,526.8 179.65,526.8 180.68,526.8 181.71,526.8 182.73,526.8 183.76,526.8 184.79,526.8 185.82,526.8 186.84,526.8 187.87,526.8 188.9,526.8 189.92,526.8 190.95,526.8 191.98,526.8 193.01,526.8 194.03,526.8 195.06,526.79 196.09,526.79 197.12,526.79 198.14,526.78 199.17,526.78 200.2,526.77 201.22,526.76 202.25,526.75 203.28,526.74 204.31,526.72 205.33,526.7 206.36,526.68 207.39,526.64 208.41,526.61 209.44,526.56 210.47,526.5 211.5,526.44 212.52,526.36 213.55,526.26 214.58,526.16 215.61,526.03 216.63,525.88 217.66,525.71 218.69,525.51 219.71,525.29 220.74,525.04 221.77,524.75 222.8,524.43 223.82,524.06 224.85,523.66 225.88,523.21 226.9,522.71 227.93,522.16 228.96,521.56 229.99,520.9 231.01,520.18 232.04,519.4 233.07,518.55 234.1,517.64 235.12,516.66 236.15,515.61 237.18,514.49 238.2,513.3 239.23,512.04 240.26,510.7 241.29,509.29 242.31,507.81 243.34,506.26 244.37,504.63 245.39,502.94 246.42,501.17 247.45,499.34 248.48,497.45 249.5,495.5 250.53,493.49 251.56,491.42 252.59,489.31 253.61,487.14 254.64,484.93 255.67,482.68 256.69,480.4 257.72,478.08 258.75,475.74 259.78,473.37 260.8,470.99 261.83,468.59 262.86,466.18 263.88,463.77 264.91,461.35 265.94,458.94 266.97,456.54 267.99,454.15 269.02,451.91 270.05,449.7 271.08,447.5 272.1,445.33 273.13,443.18 274.16,441.06 275.18,438.98 276.21,436.92 277.24,434.9 278.27,432.92 279.29,430.98 280.32,429.08 281.35,427.22 282.37,425.4 283.4,423.63 284.43,421.9 285.46,420.21 286.48,418.57 287.51,416.98 288.54,415.44 289.57,413.94 290.59,412.49 291.62,411.08 292.65,409.72 293.67,408.41 294.7,407.14 295.73,405.92 296.76,404.74 297.78,403.61 298.81,402.52 299.84,401.47 300.86,400.47 301.89,399.5 302.92,398.58 303.95,397.69 304.97,396.84 306,396.03 307.03,395.25 308.06,394.51 309.08,393.81 310.11,393.13 311.14,392.49 312.16,391.88 313.19,391.29 314.22,390.74 315.25,390.21 316.27,389.71 317.3,389.23"/>
<polyline stroke="#EDB120" points="132.4,526.8 133.43,526.8 134.45,526.8 135.48,526.8 136.51,526.8 137.54,526.8 138.56,526.8 139.59,526.8 140.62,526.8 141.65,526.8 142.67,526.8 143.7,526.8 144.73,526.8 145.75,526.8 146.78,526.8 147.81,526.8 148.84,526.8 149.86,526.8 150.89,526.8 151.92,526.8 152.94,526.8 153.97,526.8 155,526.8 156.03,526.8 157.05,526.8 158.08,526.8 159.11,526.79 160.14,526.79 161.16,526.78 162.19,526.78 163.22,526.76 164.24,526.75 165.27,526.72 166.3,526.69 167.33,526.65 168.35,526.59 169.38,526.52 170.41,526.43 171.43,526.31 172.46,526.15 173.49,525.97 174.52,525.74 175.54,525.46 176.57,525.12 177.6,524.72 178.62,524.25 179.65,523.7 180.68,523.06 181.71,522.33 182.73,521.49 183.76,520.55 184.79,519.5 185.82,518.32 186.84,517.02 187.87,515.59 188.9,514.03 189.92,512.33 190.95,510.51 191.98,508.55 193.01,506.46 194.03,504.24 195.06,501.9 196.09,499.44 197.12,496.87 198.14,494.19 199.17,491.42 200.2,488.56 201.22,485.62 202.25,482.61 203.28,479.54 204.31,476.42 205.33,473.27 206.36,470.09 207.39,466.89 208.41,463.69 209.44,460.49 210.47,457.31 211.5,454.15 212.52,451.02 213.55,447.94 214.58,444.9 215.61,441.91 216.63,438.99 217.66,436.14 218.69,433.36 219.71,430.66 220.74,428.03 221.77,425.49 222.8,423.04 223.82,420.68 224.85,418.41 225.88,416.22 226.9,414.13 227.93,412.13 228.96,410.22 229.99,408.4 231.01,406.67 232.04,405.03 233.07,403.46 234.1,401.99 235.12,400.59 236.15,399.27 237.18,398.03 238.2,396.85 239.23,395.75 240.26,394.72 241.29,393.75 242.31,392.84 243.34,391.99 244.37,391.2 245.39,390.46 246.42,389.76 247.45,389.12 248.48,388.52 249.5,387.97 250.53,387.45 251.56,386.97 252.59,386.53 253.61,386.12 254.64,385.73 255.67,385.38 256.69,385.06 257.72,384.76 258.75,384.48 259.78,384.23 260.8,384 261.83,383.78 262.86,383.58 263.88,383.4 264.91,383.23 265.94,383.08 266.97,382.94 267.99,382.81 269.02,382.7 270.05,382.59 271.08,382.49 272.1,382.4 273.13,382.32 274.16,382.24 275.18,382.18 276.21,382.11 277.24,382.06 278.27,382 279.29,381.96 280.32,381.91 281.35,381.88 282.37,381.84 283.4,381.81 284.43,381.78 285.46,381.75 286.48,381.73 287.51,381.71 288.54,381.69 289.57,381.67 290.59,381.65 291.62,381.64 292.65,381.62 293.67,381.61 294.7,381.6 295.73,381.59 296.76,381.58 297.78,381.57 298.81,381.57 299.84,381.56 300.86,381.55 301.89,381.55 302.92,381.54 303.95,381.54 304.97,381.54 306,381.53 307.03,381.53 308.06,381.53 309.08,381.52 310.11,381.52 311.14,381.52 312.16,381.52 313.19,381.52 314.22,381.51 315.25,381.51 316.27,381.51 317.3,381.51"/>
<polyline stroke="#7E2F8E" points="132.4,526.8 133.43,526.8 134.45,526.8 135.48,526.8 136.51,526.8 137.54,526.8 138.56,526.8 139.59,526.8 140.62,526.8 141.65,526.8 142.67,526.8 143.7,526.8 144.73,526.8 145.75,526.8 146.78,526.8 147.81,526.8 148.84,526.8 149.86,526.8 150.89,526.8 151.92,526.8 152.94,526.8 153.97,526.8 155,526.8 156.03,526.8 157.05,526.8 158.08,526.8 159.11,526.8 160.14,526.8 161.16,526.8 162.19,526.8 163.22,526.8 164.24,526.8 165.27,526.8 166.3,526.8 167.33,526.79 168.35,526.79 169.38,526.79 170.41,526.79 171.43,526.78 172.46,526.78 173.49,526.77 174.52,526.77 175.54,526.76 176.57,526.74 177.6,526.73 178.62,526.71 179.65,526.69 180.68,526.67 181.71,526.64 182.73,526.6 183.76,526.56 184.79,526.51 185.82,526.46 186.84,526.4 187.87,526.32 188.9,526.24 189.92,526.15 190.95,526.04 191.98,525.92 193.01,525.78 194.03,525.63 195.06,525.46 196.09,525.27 197.12,525.07 198.14,524.84 199.17,524.59 200.2,524.31 201.22,524.01 202.25,523.69 203.28,523.33 204.31,522.95 205.33,522.54 206.36,522.1 207.39,521.63 208.41,521.12 209.44,520.58 210.47,520 211.5,519.4 212.52,518.75 213.55,518.07 214.58,517.35 215.61,516.59 216.63,515.8 217.66,514.97 218.69,514.1 219.71,513.19 220.74,512.25 221.77,511.27 222.8,510.25 223.82,509.19 224.85,508.1 225.88,506.97 226.9,505.81 227.93,504.61 228.96,503.38 229.99,502.12 231.01,500.82 232.04,499.5 233.07,498.15 234.1,496.77 235.12,495.36 236.15,493.93 237.18,492.47 238.2,490.99 239.23,489.49 240.26,487.97 241.29,486.43 242.31,484.88 243.34,483.31 244.37,481.72 245.39,480.13 246.42,478.52 247.45,476.9 248.48,475.28 249.5,473.65 250.53,472.02 251.56,470.38 252.59,468.74 253.61,467.11 254.64,465.47 255.67,463.83 256.69,462.2 257.72,460.58 258.75,458.96 259.78,457.35 260.8,455.74 261.83,454.15 262.86,452.57 263.88,451 264.91,449.44 265.94,447.9 266.97,446.37 267.99,444.85 269.02,443.35 270.05,441.87 271.08,440.41 272.1,438.97 273.13,437.54 274.16,436.14 275.18,434.75 276.21,433.38 277.24,432.04 278.27,430.72 279.29,429.41 280.32,428.13 281.35,426.88 282.37,425.64 283.4,424.43 284.43,423.24 285.46,422.07 286.48,420.93 287.51,419.8 288.54,418.7 289.57,417.63 290.59,416.58 291.62,415.55 292.65,414.54 293.67,413.55 294.7,412.59 295.73,411.65 296.76,410.73 297.78,409.84 298.81,408.96 299.84,408.11 300.86,407.28 301.89,406.47 302.92,405.68 303.95,404.91 304.97,404.16 306,403.43 307.03,402.72 308.06,402.03 309.08,401.35 310.11,400.7 311.14,400.06 312.16,399.45 313.19,398.85 314.22,398.27 315.25,397.7 316.27,397.15 317.3,396.62"/>
<polyline stroke="#77AC30" points="132.4,526.8 133.43,526.8 134.45,526.8 135.48,526.8 136.51,526.8 137.54,526.8 138.56,526.8 139.59,526.8 140.62,526.8 141.65,526.8 142.67,526.8 143.7,526.8 144.73,526.8 145.75,526.8 146.78,526.8 147.81,526.8 148.84,526.8 149.86,526.8 150.89,526.8 151.92,526.8 152.94,526.8 153.97,526.8 155,526.8 156.03,526.8 157.05,526.8 158.08,526.8 159.11,526.8 160.14,526.8 161.16,526.8 162.19,526.8 163.22,526.8 164.24,526.8 165.27,526.8 166.3,526.8 167.33,526.8 168.35,526.8 169.38,526.8 170.41,526.8 171.43,526.8 172.46,526.8 173.49,526.8 174.52,526.8 175.54,526.8 176.57,526.8 177.6,526.8 178.62,526.8 179.65,526.8 180.68,526.8 181.71,526.8 182.73,526.8 183.76,526.8 184.79,526.8 185.82,526.8 186.84,526.8 187.87,526.8 188.9,526.8 189.92,526.8 190.95,526.8 191.98,526.8 193.01,526.8 194.03,526.8 195.06,526.8 196.09,526.8 197.12,526.8 198.14,526.8 199.17,526.8 200.2,526.8 201.22,526.8 202.25,526.79 203.28,526.79 204.31,526.79 205.33,526.78 206.36,526.78 207.39,526.77 208.41,526.76 209.44,526.75 210.47,526.73 211.5,526.71 212.52,526.69 213.55,526.66 214.58,526.62 215.61,526.57 216.63,526.52 217.66,526.45 218.69,526.37 219.71,526.27 220.74,526.16 221.77,526.03 222.8,525.88 223.82,525.7 224.85,525.49 225.88,525.25 226.9,524.98 227.93,524.67 228.96,524.32 229.99,523.93 231.01,523.49 232.04,522.99 233.07,522.44 234.1,521.84 235.12,521.17 236.15,520.43 237.18,519.63 238.2,518.75 239.23,517.8 240.26,516.78 241.29,515.68 242.31,514.49 243.34,513.23 244.37,511.88 245.39,510.45 246.42,508.93 247.45,507.33 248.48,505.65 249.5,503.89 250.53,502.05 251.56,500.13 252.59,498.13 253.61,496.07 254.64,493.93 255.67,491.73 256.69,489.47 257.72,487.15 258.75,484.78 259.78,482.36 260.8,479.9 261.83,477.4 262.86,474.87 263.88,472.32 264.91,469.74 265.94,467.15 266.97,464.55 267.99,461.94 269.02,459.33 270.05,456.74 271.08,454.15 272.1,451.82 273.13,449.51 274.16,447.22 275.18,444.96 276.21,442.72 277.24,440.52 278.27,438.35 279.29,436.21 280.32,434.12 281.35,432.06 282.37,430.05 283.4,428.08 284.43,426.16 285.46,424.28 286.48,422.45 287.51,420.67 288.54,418.94 289.57,417.27 290.59,415.64 291.62,414.06 292.65,412.53 293.67,411.05 294.7,409.63 295.73,408.25 296.76,406.93 297.78,405.65 298.81,404.43 299.84,403.25 300.86,402.11 301.89,401.03 302.92,399.99 303.95,398.99 304.97,398.04 306,397.13 307.03,396.26 308.06,395.43 309.08,394.64 310.11,393.89 311.14,393.18 312.16,392.49 313.19,391.85 314.22,391.23 315.25,390.65 316.27,390.1 317.3,389.57"/>
<polyline stroke="#4DBEEE" points="132.4,526.8 133.43,526.8 134.45,526.8 135.48,526.8 136.51,526.8 137.54,526.8 138.56,526.8 139.59,526.8 140.62,526.8 141.65,526.8 142.67,526.8 143.7,526.8 144.73,526.8 145.75,526.8 146.78,526.8 147.81,526.8 148.84,526.8 149.86,526.8 150.89,526.8 151.92,526.8 152.94,526.8 153.97,526.8 155,526.8 156.03,526.8 157.05,526.8 158.08,526.8 159.11,526.8 160.14,526.8 161.16,526.8 162.19,526.8 163.22,526.8 164.24,526.8 165.27,526.8 166.3,526.8 167.33,526.8 168.35,526.8 169.38,526.8 170.41,526.8 171.43,526.8 172.46,526.8 173.49,526.8 174.52,526.8 175.54,526.8 176.57,526.8 177.6,526.8 178.62,526.8 179.65,526.8 180.68,526.8 181.71,526.8 182.73,526.8 183.76,526.79 184.79,526.79 185.82,526.79 186.84,526.78 187.87,526.78 188.9,526.77 189.92,526.76 190.95,526.75 191.98,526.74 193.01,526.72 194.03,526.7 195.06,526.68 196.09,526.65 197.12,526.61 198.14,526.57 199.17,526.51 200.2,526.45 201.22,526.38 202.25,526.3 203.28,526.2 204.31,526.09 205.33,525.96 206.36,525.81 207.39,525.64 208.41,525.45 209.44,525.23 210.47,524.99 211.5,524.72 212.52,524.41 213.55,524.08 214.58,523.71 215.61,523.3 216.63,522.85 217.66,522.35 218.69,521.82 219.71,521.24 220.74,520.61 221.77,519.93 222.8,519.2 223.82,518.41 224.85,517.57 225.88,516.68 226.9,515.73 227.93,514.72 228.96,513.66 229.99,512.54 231.01,511.36 232.04,510.12 233.07,508.82 234.1,507.47 235.12,506.06 236.15,504.6 237.18,503.08 238.2,501.51 239.23,499.88 240.26,498.21 241.29,496.49 242.31,494.73 243.34,492.92 244.37,491.07 245.39,489.19 246.42,487.27 247.45,485.31 248.48,483.33 249.5,481.32 250.53,479.29 251.56,477.23 252.59,475.16 253.61,473.08 254.64,470.98 255.67,468.87 256.69,466.76 257.72,464.65 258.75,462.54 259.78,460.43 260.8,458.33 261.83,456.23 262.86,454.15 263.88,452.08 264.91,450.03 265.94,448 266.97,445.99 267.99,444 269.02,442.03 270.05,440.1 271.08,438.19 272.1,436.31 273.13,434.47 274.16,432.65 275.18,430.87 276.21,429.13 277.24,427.42 278.27,425.75 279.29,424.12 280.32,422.52 281.35,420.96 282.37,419.45 283.4,417.97 284.43,416.53 285.46,415.13 286.48,413.77 287.51,412.45 288.54,411.17 289.57,409.93 290.59,408.73 291.62,407.57 292.65,406.44 293.67,405.35 294.7,404.3 295.73,403.29 296.76,402.31 297.78,401.37 298.81,400.46 299.84,399.59 300.86,398.74 301.89,397.94 302.92,397.16 303.95,396.41 304.97,395.7 306,395.01 307.03,394.35 308.06,393.72 309.08,393.11 310.11,392.53 311.14,391.98 312.16,391.45 313.19,390.94 314.22,390.46 315.25,390 316.27,389.56 317.3,389.14"/>
<polyline stroke="#A2142F" points="132.4,526.8 133.43,526.8 134.45,526.8 135.48,526.8 136.51,526.8 137.54,526.8 138.56,526.8 139.59,526.8 140.62,526.8 141.65,526.8 142.67,526.8 143.7,526.8 144.73,526.8 145.75,526.8 146.78,526.8 147.81,526.8 148.84,526.79 149.86,526.79 150.89,526.78 151.92,526.78 152.94,526.77 153.97,526.75 155,526.73 156.03,526.7 157.05,526.67 158.08,526.62 159.11,526.56 160.14,526.49 161.16,526.4 162.19,526.28 163.22,526.14 164.24,525.97 165.27,525.77 166.3,525.53 167.33,525.25 168.35,524.92 169.38,524.54 170.41,524.11 171.43,523.62 172.46,523.06 173.49,522.43 174.52,521.74 175.54,520.97 176.57,520.11 177.6,519.18 178.62,518.17 179.65,517.07 180.68,515.88 181.71,514.61 182.73,513.25 183.76,511.8 184.79,510.27 185.82,508.65 186.84,506.95 187.87,505.16 188.9,503.3 189.92,501.37 190.95,499.36 191.98,497.29 193.01,495.15 194.03,492.96 195.06,490.71 196.09,488.41 197.12,486.08 198.14,483.7 199.17,481.29 200.2,478.86 201.22,476.4 202.25,473.92 203.28,471.44 204.31,468.95 205.33,466.46 206.36,463.97 207.39,461.49 208.41,459.03 209.44,456.58 210.47,454.15 211.5,451.75 212.52,449.37 213.55,447.03 214.58,444.73 215.61,442.46 216.63,440.23 217.66,438.04 218.69,435.9 219.71,433.81 220.74,431.76 221.77,429.76 222.8,427.82 223.82,425.92 224.85,424.08 225.88,422.29 226.9,420.55 227.93,418.86 228.96,417.23 229.99,415.65 231.01,414.12 232.04,412.65 233.07,411.23 234.1,409.85 235.12,408.53 236.15,407.26 237.18,406.03 238.2,404.86 239.23,403.73 240.26,402.64 241.29,401.6 242.31,400.61 243.34,399.65 244.37,398.74 245.39,397.86 246.42,397.03 247.45,396.23 248.48,395.47 249.5,394.74 250.53,394.04 251.56,393.38 252.59,392.75 253.61,392.15 254.64,391.58 255.67,391.04 256.69,390.52 257.72,390.03 258.75,389.56 259.78,389.12 260.8,388.7 261.83,388.3 262.86,387.92 263.88,387.56 264.91,387.22 265.94,386.89 266.97,386.59 267.99,386.3 269.02,386.02 270.05,385.76 271.08,385.52 272.1,385.29 273.13,385.07 274.16,384.86 275.18,384.67 276.21,384.48 277.24,384.31 278.27,384.14 279.29,383.99 280.32,383.84 281.35,383.7 282.37,383.57 283.4,383.45 284.43,383.33 285.46,383.22 286.48,383.12 287.51,383.02 288.54,382.93 289.57,382.84 290.59,382.76 291.62,382.69 292.65,382.61 293.67,382.55 294.7,382.48 295.73,382.42 296.76,382.37 297.78,382.31 298.81,382.26 299.84,382.22 300.86,382.17 301.89,382.13 302.92,382.09 303.95,382.06 304.97,382.02 306,381.99 307.03,381.96 308.06,381.93 309.08,381.9 310.11,381.88 311.14,381.86 312.16,381.83 313.19,381.81 314.22,381.79 315.25,381.77 316.27,381.76 317.3,381.74"/>
<polyline stroke="#0072BD" points="132.4,526.8 133.43,526.8 134.45,526.8 135.48,526.8 136.51,526.8 137.54,526.8 138.56,526.8 139.59,526.8 140.62,526.8 141.65,526.8 142.67,526.8 143.7,526.8 144.73,526.8 145.75,526.8 146.78,526.8 147.81,526.8 148.84,526.8 149.86,526.8 150.89,526.8 151.92,526.8 152.94,526.8 153.97,526.8 155,526.8 156.03,526.8 157.05,526.8 158.08,526.8 159.11,526.8 160.14,526.8 161.16,526.8 162.19,526.8 163.22,526.8 164.24,526.8 165.27,526.8 166.3,526.8 167.33,526.8 168.35,526.8 169.38,526.8 170.41,526.8 171.43,526.8 172.46,526.8 173.49,526.8 174.52,526.8 175.54,526.8 176.57,526.8 177.6,526.8 178.62,526.8 179.65,526.8 180.68,526.8 181.71,526.79 182.73,526.79 183.76,526.79 184.79,526.79 185.82,526.78 186.84,526.78 187.87,526.77 188.9,526.76 189.92,526.75 190.95,526.74 191.98,526.72 193.01,526.7 194.03,526.68 195.06,526.65 196.09,526.62 197.12,526.58 198.14,526.53 199.17,526.47 200.2,526.41 201.22,526.33 202.25,526.24 203.28,526.14 204.31,526.03 205.33,525.89 206.36,525.75 207.39,525.58 208.41,525.39 209.44,525.17 210.47,524.94 211.5,524.67 212.52,524.38 213.55,524.06 214.58,523.7 215.61,523.31 216.63,522.89 217.66,522.43 218.69,521.93 219.71,521.39 220.74,520.8 221.77,520.17 222.8,519.5 223.82,518.78 224.85,518.01 225.88,517.2 226.9,516.33 227.93,515.42 228.96,514.45 229.99,513.43 231.01,512.36 232.04,511.24 233.07,510.07 234.1,508.85 235.12,507.58 236.15,506.26 237.18,504.89 238.2,503.47 239.23,502.01 240.26,500.5 241.29,498.95 242.31,497.36 243.34,495.72 244.37,494.05 245.39,492.34 246.42,490.6 247.45,488.82 248.48,487.02 249.5,485.19 250.53,483.33 251.56,481.45 252.59,479.55 253.61,477.63 254.64,475.7 255.67,473.76 256.69,471.8 257.72,469.84 258.75,467.87 259.78,465.9 260.8,463.93 261.83,461.96 262.86,460 263.88,458.04 264.91,456.09 265.94,454.15 266.97,452.22 267.99,450.31 269.02,448.42 270.05,446.54 271.08,444.69 272.1,442.86 273.13,441.04 274.16,439.26 275.18,437.5 276.21,435.76 277.24,434.06 278.27,432.38 279.29,430.74 280.32,429.12 281.35,427.54 282.37,425.99 283.4,424.47 284.43,422.98 285.46,421.53 286.48,420.11 287.51,418.72 288.54,417.37 289.57,416.06 290.59,414.78 291.62,413.53 292.65,412.31 293.67,411.13 294.7,409.99 295.73,408.88 296.76,407.8 297.78,406.75 298.81,405.74 299.84,404.76 300.86,403.8 301.89,402.89 302.92,402 303.95,401.14 304.97,400.31 306,399.51 307.03,398.73 308.06,397.99 309.08,397.27 310.11,396.58 311.14,395.91 312.16,395.27 313.19,394.66 314.22,394.06 315.25,393.49 316.27,392.95 317.3,392.42"/>
</g>
<g class="tk"><text transform="translate(132.4,534.9) scale(1.1,1)" text-anchor="middle">1</text><text transform="translate(152.94,534.9) scale(1.1,1)" text-anchor="middle">2</text><text transform="translate(173.49,534.9) scale(1.1,1)" text-anchor="middle">3</text><text transform="translate(194.03,534.9) scale(1.1,1)" text-anchor="middle">4</text><text transform="translate(214.58,534.9) scale(1.1,1)" text-anchor="middle">5</text><text transform="translate(235.12,534.9) scale(1.1,1)" text-anchor="middle">6</text><text transform="translate(255.67,534.9) scale(1.1,1)" text-anchor="middle">7</text><text transform="translate(276.21,534.9) scale(1.1,1)" text-anchor="middle">8</text><text transform="translate(296.76,534.9) scale(1.1,1)" text-anchor="middle">9</text><text transform="translate(317.3,534.9) scale(1.1,1)" text-anchor="middle">10</text><text transform="translate(130.8,528.8) scale(1.1,1)" text-anchor="end">0</text><text transform="translate(130.8,514.27) scale(1.1,1)" text-anchor="end">0.1</text><text transform="translate(130.8,499.74) scale(1.1,1)" text-anchor="end">0.2</text><text transform="translate(130.8,485.21) scale(1.1,1)" text-anchor="end">0.3</text><text transform="translate(130.8,470.68) scale(1.1,1)" text-anchor="end">0.4</text><text transform="translate(130.8,456.15) scale(1.1,1)" text-anchor="end">0.5</text><text transform="translate(130.8,441.62) scale(1.1,1)" text-anchor="end">0.6</text><text transform="translate(130.8,427.09) scale(1.1,1)" text-anchor="end">0.7</text><text transform="translate(130.8,412.56) scale(1.1,1)" text-anchor="end">0.8</text><text transform="translate(130.8,398.03) scale(1.1,1)" text-anchor="end">0.9</text><text transform="translate(130.8,383.5) scale(1.1,1)" text-anchor="end">1</text></g>
<text class="al" x="224.85" y="544" text-anchor="middle">Flood Depth (m)</text>
<text class="al" transform="translate(119.8,454.15) rotate(-90)" text-anchor="middle">Probability of Exceedance</text>
<rect x="280.5" y="399.8" width="32.5" height="123.1" fill="#fff" stroke="#7a7a7a" stroke-width="0.8"/>
<line x1="281.9" x2="299.2" y1="404.4" y2="404.4" stroke="#0072BD" stroke-width="1.35"/>
<text class="lg" transform="translate(300.3,407.15) scale(0.97,1)">F1</text>
<line x1="281.9" x2="299.2" y1="412.54" y2="412.54" stroke="#D95319" stroke-width="1.35"/>
<text class="lg" transform="translate(300.3,415.29) scale(0.97,1)">F2</text>
<line x1="281.9" x2="299.2" y1="420.68" y2="420.68" stroke="#EDB120" stroke-width="1.35"/>
<text class="lg" transform="translate(300.3,423.43) scale(0.97,1)">F3</text>
<line x1="281.9" x2="299.2" y1="428.82" y2="428.82" stroke="#7E2F8E" stroke-width="1.35"/>
<text class="lg" transform="translate(300.3,431.57) scale(0.97,1)">F4</text>
<line x1="281.9" x2="299.2" y1="436.96" y2="436.96" stroke="#77AC30" stroke-width="1.35"/>
<text class="lg" transform="translate(300.3,439.71) scale(0.97,1)">F5</text>
<line x1="281.9" x2="299.2" y1="445.1" y2="445.1" stroke="#4DBEEE" stroke-width="1.35"/>
<text class="lg" transform="translate(300.3,447.85) scale(0.97,1)">F6</text>
<line x1="281.9" x2="299.2" y1="453.24" y2="453.24" stroke="#A2142F" stroke-width="1.35"/>
<text class="lg" transform="translate(300.3,455.99) scale(0.97,1)">F7</text>
<line x1="281.9" x2="299.2" y1="461.38" y2="461.38" stroke="#0072BD" stroke-width="1.35"/>
<text class="lg" transform="translate(300.3,464.13) scale(0.97,1)">F8</text>
<line x1="281.9" x2="299.2" y1="469.52" y2="469.52" stroke="#D95319" stroke-width="1.35"/>
<text class="lg" transform="translate(300.3,472.27) scale(0.97,1)">F9</text>
<line x1="281.9" x2="299.2" y1="477.66" y2="477.66" stroke="#EDB120" stroke-width="1.35"/>
<text class="lg" transform="translate(300.3,480.41) scale(0.97,1)">F10</text>
<line x1="281.9" x2="299.2" y1="485.8" y2="485.8" stroke="#7E2F8E" stroke-width="1.35"/>
<text class="lg" transform="translate(300.3,488.55) scale(0.97,1)">F11</text>
<line x1="281.9" x2="299.2" y1="493.94" y2="493.94" stroke="#77AC30" stroke-width="1.35"/>
<text class="lg" transform="translate(300.3,496.69) scale(0.97,1)">F12</text>
<line x1="281.9" x2="299.2" y1="502.08" y2="502.08" stroke="#4DBEEE" stroke-width="1.35"/>
<text class="lg" transform="translate(300.3,504.83) scale(0.97,1)">F13</text>
<line x1="281.9" x2="299.2" y1="510.22" y2="510.22" stroke="#A2142F" stroke-width="1.35"/>
<text class="lg" transform="translate(300.3,512.97) scale(0.97,1)">F14</text>
<line x1="281.9" x2="299.2" y1="518.36" y2="518.36" stroke="#0072BD" stroke-width="1.35"/>
<text class="lg" transform="translate(300.3,521.11) scale(0.97,1)">F15</text>
<text class="pl" transform="translate(135.4,394.2) scale(1.12,1)">(e)</text>
<text class="ds" transform="translate(250.7,521.9) scale(1.03,1)">DS4</text>
</svg>
</body></html>
